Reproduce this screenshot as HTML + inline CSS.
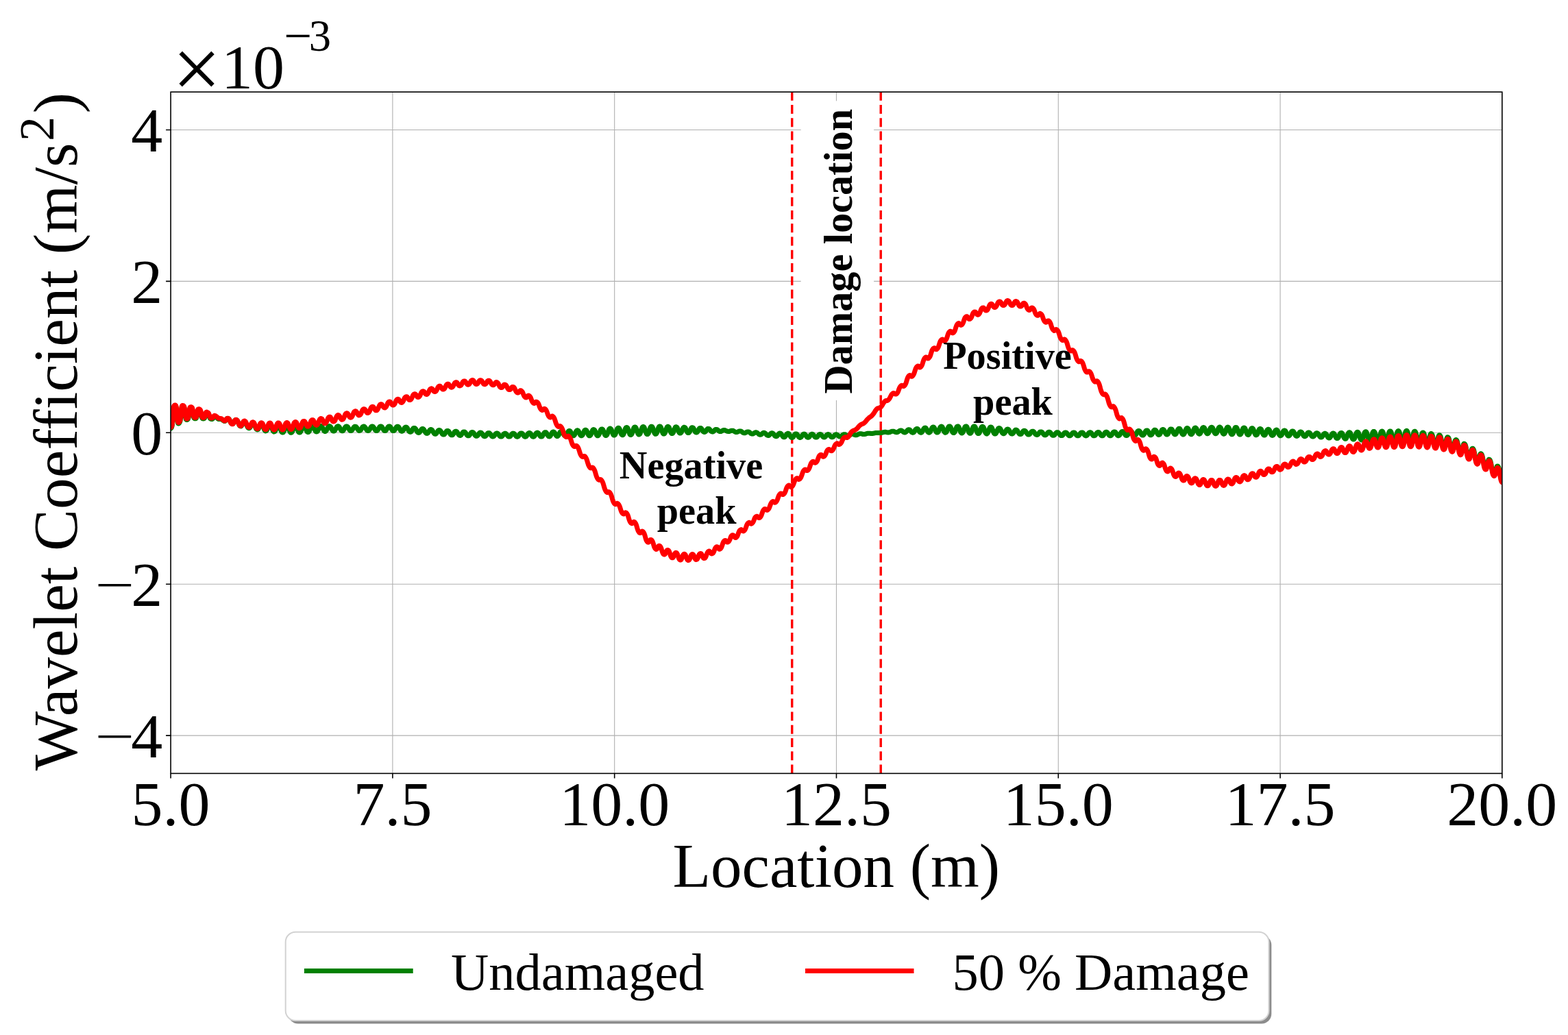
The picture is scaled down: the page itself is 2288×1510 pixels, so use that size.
<!DOCTYPE html><html><head><meta charset="utf-8"><title>Wavelet coefficient plot</title><style>html,body{margin:0;padding:0;background:#fff;overflow:hidden;}svg{display:block;}text{font-family:"Liberation Serif","Times New Roman",serif;fill:#000;}</style></head><body>
<svg width="2288" height="1510" viewBox="0 0 2288 1510">
<defs><clipPath id="axclip"><rect x="249.10" y="134.20" width="1942.75" height="994.20"/></clipPath></defs>
<rect width="2288" height="1510" fill="#fff"/>
<path d="M572.89 134.20V1128.40 M896.68 134.20V1128.40 M1220.47 134.20V1128.40 M1544.27 134.20V1128.40 M1868.06 134.20V1128.40 M249.10 189.43H2191.85 M249.10 410.37H2191.85 M249.10 631.30H2191.85 M249.10 852.23H2191.85 M249.10 1073.17H2191.85" stroke="#b0b0b0" stroke-width="1.1" fill="none"/>
<line x1="1155.72" y1="1128.40" x2="1155.72" y2="134.20" stroke="#ff0000" stroke-width="3.4" stroke-dasharray="13 6.25"/>
<line x1="1285.23" y1="1128.40" x2="1285.23" y2="134.20" stroke="#ff0000" stroke-width="3.4" stroke-dasharray="13 6.25"/>
<g clip-path="url(#axclip)" fill="none" stroke-width="7" stroke-linejoin="round" stroke-linecap="butt"><path d="M245.1 594.4L245.6 596.7 246.1 602.2 246.6 611.0 247.1 618.9 247.6 623.1 248.1 624.7 248.6 625.3 249.1 625.2 249.6 624.8 250.1 624.2 250.6 623.3 251.1 621.6 251.6 618.2 252.1 611.8 252.6 603.4 253.1 597.3 253.6 594.3 254.1 593.2 254.6 592.7 255.1 592.5 255.6 592.5 256.1 592.6 256.6 593.1 257.1 594.5 257.6 597.7 258.1 603.8 258.6 610.8 259.1 615.4 259.6 617.4 260.1 618.0 260.6 618.0 261.1 617.7 261.6 617.2 262.1 616.5 262.6 615.5 263.1 613.6 263.6 609.9 264.1 603.9 264.6 598.2 265.1 594.8 265.6 593.5 266.1 593.1 266.6 593.1 267.1 593.2 267.6 593.3 268.1 593.7 268.6 594.3 269.1 595.9 269.6 599.3 270.1 604.4 270.6 608.8 271.1 611.1 271.6 612.1 272.1 612.4 272.6 612.4 273.1 612.4 273.6 612.2 274.1 611.8 274.6 611.1 275.1 609.4 275.6 606.0 276.1 601.4 276.6 597.8 277.1 596.1 277.6 595.4 278.1 595.2 278.6 595.2 279.1 595.3 279.6 595.5 280.1 595.9 280.6 596.6 281.1 598.4 281.6 601.7 282.1 605.8 282.6 608.7 283.1 610.0 283.6 610.6 284.1 610.8 284.6 610.8 285.1 610.8 285.6 610.7 286.1 610.4 286.6 609.7 287.1 608.1 287.6 605.0 288.1 601.6 288.6 599.4 289.1 598.5 289.6 598.2 290.1 598.2 290.6 598.3 291.1 598.5 291.6 598.8 292.1 599.2 292.6 600.0 293.1 601.8 293.6 604.6 294.1 607.6 294.6 609.5 295.1 610.3 295.6 610.7 296.1 610.8 296.6 610.9 297.1 610.9 297.6 610.8 298.1 610.6 298.6 610.0 299.1 608.7 299.6 606.4 300.1 604.3 300.6 603.1 301.1 602.7 301.6 602.6 302.1 602.8 302.6 602.9 303.1 603.2 303.6 603.5 304.1 603.9 304.6 604.7 305.1 606.0 305.6 607.9 306.1 609.6 306.6 610.6 307.1 611.1 307.6 611.3 308.1 611.4 308.6 611.5 309.1 611.4 309.6 611.4 310.1 611.2 310.6 610.8 311.1 610.1 311.6 609.2 312.1 608.4 312.6 608.0 313.1 607.9 313.6 608.0 314.1 608.1 314.6 608.3 315.1 608.6 315.6 608.9 316.1 609.2 316.6 609.6 317.1 610.1 317.6 610.7 318.1 611.1 318.6 611.4 319.1 611.5 319.6 611.6 320.1 611.6 320.6 611.6 321.1 611.6 321.6 611.5 322.1 611.5 322.6 611.5 323.1 611.6 323.6 611.9 324.1 612.3 324.6 612.7 325.1 613.1 325.6 613.5 326.1 613.8 326.6 614.1 327.1 614.4 327.6 614.5 328.1 614.5 328.6 614.3 329.1 613.8 329.6 613.0 330.1 612.1 330.6 611.3 331.1 610.8 331.6 610.5 332.1 610.4 332.6 610.4 333.1 610.5 333.6 610.8 334.1 611.3 334.6 611.9 335.1 612.9 335.6 614.1 336.1 615.3 336.6 616.4 337.1 617.2 337.6 617.7 338.1 618.1 338.6 618.3 339.1 618.4 339.6 618.3 340.1 618.1 340.6 617.6 341.1 616.7 341.6 615.7 342.1 614.6 342.6 613.6 343.1 613.0 343.6 612.6 344.1 612.4 344.6 612.4 345.1 612.6 345.6 612.9 346.1 613.4 346.6 614.1 347.1 615.2 347.6 616.6 348.1 618.0 348.6 619.3 349.1 620.3 349.6 621.0 350.1 621.5 350.6 621.8 351.1 621.9 351.6 621.9 352.1 621.7 352.6 621.1 353.1 620.3 353.6 619.2 354.1 617.9 354.6 616.8 355.1 615.9 355.6 615.4 356.1 615.1 356.6 615.1 357.1 615.1 357.6 615.4 358.1 615.8 358.6 616.5 359.1 617.5 359.6 618.8 360.1 620.3 360.6 621.7 361.1 622.9 361.6 623.7 362.1 624.2 362.6 624.6 363.1 624.7 363.6 624.7 364.1 624.5 364.6 624.1 365.1 623.4 365.6 622.3 366.1 621.0 366.6 619.7 367.1 618.7 367.6 617.9 368.1 617.5 368.6 617.3 369.1 617.2 369.6 617.3 370.1 617.6 370.6 618.2 371.1 619.0 371.6 620.1 372.1 621.6 372.6 623.1 373.1 624.5 373.6 625.5 374.1 626.2 374.6 626.6 375.1 626.8 375.6 626.9 376.1 626.8 376.6 626.5 377.1 625.9 377.6 624.9 378.1 623.6 378.6 622.2 379.1 620.8 379.6 619.8 380.1 619.1 380.6 618.8 381.1 618.6 381.6 618.6 382.1 618.8 382.6 619.2 383.1 619.9 383.6 620.9 384.1 622.3 384.6 623.9 385.1 625.5 385.6 626.8 386.1 627.7 386.6 628.3 387.1 628.7 387.6 628.9 388.1 628.8 388.6 628.6 389.1 628.1 389.6 627.3 390.1 626.1 390.6 624.6 391.1 623.0 391.6 621.7 392.1 620.7 392.6 620.0 393.1 619.7 393.6 619.6 394.1 619.6 394.6 619.9 395.1 620.3 395.6 621.1 396.1 622.3 396.6 623.8 397.1 625.5 397.6 627.0 398.1 628.2 398.6 629.1 399.1 629.6 399.6 629.9 400.1 629.9 400.6 629.8 401.1 629.5 401.6 628.9 402.1 628.0 402.6 626.6 403.1 625.0 403.6 623.5 404.1 622.2 404.6 621.3 405.1 620.7 405.6 620.4 406.1 620.4 406.6 620.5 407.1 620.8 407.6 621.3 408.1 622.3 408.6 623.6 409.1 625.2 409.6 626.9 410.1 628.5 410.6 629.6 411.1 630.4 411.6 630.8 412.1 631.0 412.6 631.1 413.1 630.9 413.6 630.5 414.1 629.7 414.6 628.6 415.1 627.1 415.6 625.4 416.1 623.8 416.6 622.6 417.1 621.7 417.6 621.2 418.1 621.0 418.6 620.9 419.1 621.1 419.6 621.4 420.1 622.1 420.6 623.0 421.1 624.4 421.6 626.1 422.1 627.7 422.6 629.2 423.1 630.2 423.6 630.8 424.1 631.2 424.6 631.3 425.1 631.2 425.6 631.0 426.1 630.5 426.6 629.7 427.1 628.5 427.6 626.9 428.1 625.3 428.6 623.7 429.1 622.6 429.6 621.8 430.1 621.4 430.6 621.2 431.1 621.1 431.6 621.3 432.1 621.7 432.6 622.3 433.1 623.4 433.6 624.8 434.1 626.4 434.6 628.0 435.1 629.3 435.6 630.2 436.1 630.7 436.6 631.0 437.1 631.1 437.6 631.0 438.1 630.7 438.6 630.1 439.1 629.2 439.6 628.0 440.1 626.4 440.6 624.8 441.1 623.4 441.6 622.4 442.1 621.7 442.6 621.4 443.1 621.2 443.6 621.2 444.1 621.4 444.6 621.9 445.1 622.6 445.6 623.6 446.1 625.0 446.6 626.6 447.1 628.0 447.6 629.1 448.1 629.9 448.6 630.3 449.1 630.5 449.6 630.6 450.1 630.4 450.6 630.1 451.1 629.5 451.6 628.6 452.1 627.3 452.6 625.9 453.1 624.4 453.6 623.1 454.1 622.3 454.6 621.7 455.1 621.4 455.6 621.3 456.1 621.3 456.6 621.6 457.1 622.0 457.6 622.7 458.1 623.7 458.6 625.1 459.1 626.5 459.6 627.8 460.1 628.8 460.6 629.4 461.1 629.8 461.6 629.9 462.1 629.9 462.6 629.8 463.1 629.5 463.6 628.9 464.1 628.0 464.6 626.8 465.1 625.5 465.6 624.1 466.1 623.0 466.6 622.2 467.1 621.7 467.6 621.5 468.1 621.4 468.6 621.5 469.1 621.7 469.6 622.1 470.1 622.8 470.6 623.7 471.1 625.0 471.6 626.3 472.1 627.4 472.6 628.3 473.1 628.9 473.6 629.2 474.1 629.4 474.6 629.4 475.1 629.2 475.6 628.9 476.1 628.4 476.6 627.6 477.1 626.5 477.6 625.3 478.1 624.1 478.6 623.1 479.1 622.4 479.6 621.9 480.1 621.7 480.6 621.6 481.1 621.7 481.6 621.9 482.1 622.2 482.6 622.9 483.1 623.8 483.6 624.9 484.1 626.1 484.6 627.2 485.1 628.0 485.6 628.6 486.1 628.9 486.6 629.0 487.1 629.0 487.6 628.9 488.1 628.6 488.6 628.2 489.1 627.4 489.6 626.5 490.1 625.3 490.6 624.1 491.1 623.2 491.6 622.5 492.1 622.1 492.6 621.9 493.1 621.8 493.6 621.8 494.1 622.0 494.6 622.4 495.1 622.9 495.6 623.8 496.1 624.8 496.6 626.0 497.1 627.0 497.6 627.8 498.1 628.3 498.6 628.6 499.1 628.8 499.6 628.8 500.1 628.7 500.6 628.4 501.1 628.0 501.6 627.3 502.1 626.4 502.6 625.3 503.1 624.2 503.6 623.4 504.1 622.7 504.6 622.3 505.1 622.1 505.6 622.0 506.1 622.0 506.6 622.2 507.1 622.5 507.6 623.0 508.1 623.8 508.6 624.8 509.1 625.8 509.6 626.8 510.1 627.6 510.6 628.1 511.1 628.4 511.6 628.5 512.1 628.5 512.6 628.4 513.1 628.2 513.6 627.8 514.1 627.2 514.6 626.4 515.1 625.3 515.6 624.3 516.1 623.5 516.6 622.9 517.1 622.5 517.6 622.3 518.1 622.2 518.6 622.2 519.1 622.4 519.6 622.6 520.1 623.1 520.6 623.8 521.1 624.7 521.6 625.8 522.1 626.7 522.6 627.4 523.1 627.9 523.6 628.2 524.1 628.4 524.6 628.4 525.1 628.3 525.6 628.1 526.1 627.8 526.6 627.2 527.1 626.3 527.6 625.3 528.1 624.3 528.6 623.5 529.1 622.8 529.6 622.4 530.1 622.2 530.6 622.1 531.1 622.1 531.6 622.3 532.1 622.6 532.6 623.1 533.1 623.8 533.6 624.7 534.1 625.8 534.6 626.7 535.1 627.5 535.6 628.0 536.1 628.3 536.6 628.4 537.1 628.5 537.6 628.4 538.1 628.1 538.6 627.8 539.1 627.1 539.6 626.3 540.1 625.2 540.6 624.2 541.1 623.3 541.6 622.7 542.1 622.3 542.6 622.1 543.1 622.0 543.6 622.1 544.1 622.2 544.6 622.6 545.1 623.1 545.6 623.9 546.1 624.8 546.6 625.9 547.1 626.9 547.6 627.6 548.1 628.1 548.6 628.4 549.1 628.5 549.6 628.5 550.1 628.4 550.6 628.1 551.1 627.7 551.6 627.0 552.1 626.1 552.6 625.0 553.1 624.0 553.6 623.2 554.1 622.6 554.6 622.2 555.1 622.0 555.6 622.0 556.1 622.0 556.6 622.2 557.1 622.6 557.6 623.2 558.1 624.1 558.6 625.1 559.1 626.2 559.6 627.1 560.1 627.8 560.6 628.2 561.1 628.5 561.6 628.6 562.1 628.5 562.6 628.4 563.1 628.1 563.6 627.5 564.1 626.8 564.6 625.8 565.1 624.6 565.6 623.7 566.1 622.9 566.6 622.4 567.1 622.1 567.6 621.9 568.1 621.9 568.6 622.0 569.1 622.3 569.6 622.8 570.1 623.5 570.6 624.4 571.1 625.5 571.6 626.6 572.1 627.4 572.6 628.0 573.1 628.4 573.6 628.6 574.1 628.6 574.6 628.5 575.1 628.3 575.6 627.9 576.1 627.3 576.6 626.4 577.1 625.4 577.6 624.3 578.1 623.4 578.6 622.8 579.1 622.4 579.6 622.2 580.1 622.2 580.6 622.3 581.1 622.5 581.6 622.8 582.1 623.4 582.6 624.3 583.1 625.4 583.6 626.5 584.1 627.5 584.6 628.2 585.1 628.7 585.6 629.0 586.1 629.2 586.6 629.2 587.1 629.1 587.6 628.8 588.1 628.3 588.6 627.6 589.1 626.6 589.6 625.6 590.1 624.6 590.6 623.9 591.1 623.5 591.6 623.2 592.1 623.1 592.6 623.2 593.1 623.3 593.6 623.6 594.1 624.1 594.6 624.9 595.1 625.9 595.6 627.0 596.1 628.1 596.6 629.0 597.1 629.6 597.6 629.9 598.1 630.1 598.6 630.2 599.1 630.2 599.6 630.0 600.1 629.7 600.6 629.1 601.1 628.2 601.6 627.2 602.1 626.2 602.6 625.4 603.1 624.8 603.6 624.5 604.1 624.4 604.6 624.4 605.1 624.5 605.6 624.7 606.1 625.2 606.6 625.8 607.1 626.7 607.6 627.8 608.1 628.9 608.6 629.9 609.1 630.5 609.6 631.0 610.1 631.3 610.6 631.4 611.1 631.4 611.6 631.3 612.1 631.0 612.6 630.5 613.1 629.7 613.6 628.8 614.1 627.7 614.6 626.9 615.1 626.2 615.6 625.8 616.1 625.6 616.6 625.6 617.1 625.6 617.6 625.8 618.1 626.2 618.6 626.7 619.1 627.5 619.6 628.5 620.1 629.6 620.6 630.6 621.1 631.4 621.6 631.9 622.1 632.2 622.6 632.3 623.1 632.4 623.6 632.3 624.1 632.0 624.6 631.6 625.1 630.9 625.6 630.0 626.1 629.0 626.6 628.1 627.1 627.3 627.6 626.9 628.1 626.6 628.6 626.5 629.1 626.6 629.6 626.7 630.1 627.0 630.6 627.5 631.1 628.2 631.6 629.1 632.1 630.2 632.6 631.2 633.1 632.0 633.6 632.6 634.1 633.0 634.6 633.1 635.1 633.2 635.6 633.2 636.1 633.0 636.6 632.6 637.1 632.0 637.6 631.1 638.1 630.2 638.6 629.2 639.1 628.4 639.6 627.9 640.1 627.6 640.6 627.5 641.1 627.5 641.6 627.6 642.1 627.9 642.6 628.3 643.1 628.9 643.6 629.8 644.1 630.9 644.6 631.9 645.1 632.8 645.6 633.4 646.1 633.8 646.6 634.0 647.1 634.1 647.6 634.0 648.1 633.9 648.6 633.5 649.1 633.0 649.6 632.2 650.1 631.2 650.6 630.3 651.1 629.5 651.6 628.9 652.1 628.6 652.6 628.4 653.1 628.4 653.6 628.5 654.1 628.7 654.6 629.1 655.1 629.7 655.6 630.5 656.1 631.5 656.6 632.6 657.1 633.4 657.6 634.1 658.1 634.5 658.6 634.7 659.1 634.8 659.6 634.8 660.1 634.7 660.6 634.4 661.1 633.8 661.6 633.1 662.1 632.1 662.6 631.2 663.1 630.3 663.6 629.8 664.1 629.4 664.6 629.2 665.1 629.2 665.6 629.3 666.1 629.5 666.6 629.8 667.1 630.4 667.6 631.1 668.1 632.1 668.6 633.1 669.1 634.0 669.6 634.6 670.1 635.0 670.6 635.3 671.1 635.4 671.6 635.4 672.1 635.2 672.6 634.9 673.1 634.5 673.6 633.7 674.1 632.8 674.6 631.9 675.1 631.0 675.6 630.5 676.1 630.1 676.6 629.9 677.1 629.9 677.6 629.9 678.1 630.1 678.6 630.4 679.1 630.9 679.6 631.7 680.1 632.6 680.6 633.6 681.1 634.5 681.6 635.1 682.1 635.5 682.6 635.7 683.1 635.8 683.6 635.8 684.1 635.7 684.6 635.4 685.1 635.0 685.6 634.3 686.1 633.4 686.6 632.5 687.1 631.7 687.6 631.1 688.1 630.7 688.6 630.6 689.1 630.5 689.6 630.5 690.1 630.7 690.6 631.0 691.1 631.5 691.6 632.3 692.1 633.2 692.6 634.1 693.1 635.0 693.6 635.6 694.1 635.9 694.6 636.2 695.1 636.3 695.6 636.3 696.1 636.1 696.6 635.9 697.1 635.4 697.6 634.7 698.1 633.9 698.6 633.0 699.1 632.2 699.6 631.7 700.1 631.3 700.6 631.1 701.1 631.1 701.6 631.2 702.1 631.3 702.6 631.6 703.1 632.1 703.6 632.8 704.1 633.7 704.6 634.6 705.1 635.4 705.6 636.0 706.1 636.4 706.6 636.6 707.1 636.7 707.6 636.6 708.1 636.5 708.6 636.2 709.1 635.8 709.6 635.1 710.1 634.3 710.6 633.4 711.1 632.7 711.6 632.1 712.1 631.8 712.6 631.7 713.1 631.6 713.6 631.7 714.1 631.8 714.6 632.2 715.1 632.7 715.6 633.4 716.1 634.2 716.6 635.1 717.1 635.9 717.6 636.4 718.1 636.7 718.6 636.9 719.1 637.0 719.6 636.9 720.1 636.8 720.6 636.5 721.1 636.0 721.6 635.3 722.1 634.5 722.6 633.7 723.1 633.0 723.6 632.5 724.1 632.2 724.6 632.1 725.1 632.0 725.6 632.1 726.1 632.3 726.6 632.6 727.1 633.1 727.6 633.8 728.1 634.6 728.6 635.5 729.1 636.2 729.6 636.6 730.1 636.9 730.6 637.1 731.1 637.1 731.6 637.1 732.1 636.9 732.6 636.6 733.1 636.1 733.6 635.4 734.1 634.5 734.6 633.7 735.1 633.1 735.6 632.7 736.1 632.4 736.6 632.3 737.1 632.3 737.6 632.3 738.1 632.5 738.6 632.9 739.1 633.4 739.6 634.1 740.1 634.9 740.6 635.7 741.1 636.3 741.6 636.7 742.1 637.0 742.6 637.1 743.1 637.1 743.6 637.1 744.1 636.9 744.6 636.5 745.1 635.9 745.6 635.2 746.1 634.3 746.6 633.5 747.1 632.9 747.6 632.5 748.1 632.3 748.6 632.2 749.1 632.2 749.6 632.2 750.1 632.5 750.6 632.9 751.1 633.5 751.6 634.3 752.1 635.2 752.6 636.0 753.1 636.6 753.6 636.9 754.1 637.1 754.6 637.2 755.1 637.2 755.6 637.1 756.1 636.8 756.6 636.3 757.1 635.6 757.6 634.7 758.1 633.8 758.6 633.0 759.1 632.5 759.6 632.1 760.1 631.9 760.6 631.9 761.1 631.9 761.6 632.1 762.1 632.4 762.6 632.9 763.1 633.7 763.6 634.6 764.1 635.5 764.6 636.2 765.1 636.8 765.6 637.1 766.1 637.2 766.6 637.2 767.1 637.1 767.6 636.9 768.1 636.5 768.6 635.9 769.1 635.0 769.6 634.0 770.1 633.1 770.6 632.4 771.1 631.9 771.6 631.7 772.1 631.5 772.6 631.5 773.1 631.6 773.6 631.9 774.1 632.3 774.6 633.0 775.1 634.0 775.6 635.0 776.1 635.9 776.6 636.5 777.1 636.9 777.6 637.1 778.1 637.2 778.6 637.1 779.1 637.0 779.6 636.6 780.1 636.1 780.6 635.2 781.1 634.2 781.6 633.2 782.1 632.3 782.6 631.7 783.1 631.4 783.6 631.2 784.1 631.1 784.6 631.2 785.1 631.4 785.6 631.8 786.1 632.4 786.6 633.4 787.1 634.4 787.6 635.4 788.1 636.2 788.6 636.7 789.1 637.0 789.6 637.1 790.1 637.1 790.6 637.0 791.1 636.7 791.6 636.1 792.1 635.3 792.6 634.3 793.1 633.2 793.6 632.2 794.1 631.5 794.6 631.0 795.1 630.8 795.6 630.7 796.1 630.7 796.6 630.8 797.1 631.2 797.6 631.8 798.1 632.7 798.6 633.7 799.1 634.8 799.6 635.7 800.1 636.3 800.6 636.7 801.1 636.8 801.6 636.9 802.1 636.7 802.6 636.5 803.1 636.0 803.6 635.2 804.1 634.2 804.6 633.0 805.1 631.9 805.6 631.1 806.1 630.5 806.6 630.2 807.1 630.0 807.6 630.0 808.1 630.1 808.6 630.4 809.1 630.9 809.6 631.7 810.1 632.8 810.6 633.9 811.1 635.0 811.6 635.7 812.1 636.1 812.6 636.4 813.1 636.4 813.6 636.4 814.1 636.1 814.6 635.7 815.1 635.0 815.6 634.0 816.1 632.8 816.6 631.6 817.1 630.6 817.6 629.9 818.1 629.5 818.6 629.2 819.1 629.2 819.6 629.2 820.1 629.5 820.6 629.9 821.1 630.7 821.6 631.7 822.1 632.9 822.6 634.1 823.1 634.9 823.6 635.5 824.1 635.8 824.6 636.0 825.1 636.0 825.6 635.8 826.1 635.4 826.6 634.8 827.1 633.9 827.6 632.7 828.1 631.5 828.6 630.3 829.1 629.5 829.6 628.9 830.1 628.6 830.6 628.5 831.1 628.5 831.6 628.7 832.1 629.0 832.6 629.7 833.1 630.7 833.6 631.9 834.1 633.2 834.6 634.3 835.1 635.0 835.6 635.5 836.1 635.7 836.6 635.8 837.1 635.7 837.6 635.4 838.1 634.9 838.6 634.2 839.1 633.0 839.6 631.7 840.1 630.4 840.6 629.3 841.1 628.6 841.6 628.1 842.1 627.9 842.6 627.8 843.1 627.9 843.6 628.2 844.1 628.8 844.6 629.6 845.1 630.8 845.6 632.2 846.1 633.5 846.6 634.5 847.1 635.2 847.6 635.6 848.1 635.8 848.6 635.8 849.1 635.6 849.6 635.3 850.1 634.6 850.6 633.6 851.1 632.3 851.6 630.8 852.1 629.5 852.6 628.5 853.1 627.8 853.6 627.4 854.1 627.3 854.6 627.3 855.1 627.4 855.6 627.8 856.1 628.5 856.6 629.6 857.1 630.9 857.6 632.4 858.1 633.7 858.6 634.7 859.1 635.3 859.6 635.7 860.1 635.8 860.6 635.8 861.1 635.6 861.6 635.1 862.1 634.3 862.6 633.2 863.1 631.7 863.6 630.1 864.1 628.8 864.6 627.8 865.1 627.1 865.6 626.8 866.1 626.6 866.6 626.7 867.1 626.9 867.6 627.3 868.1 628.1 868.6 629.3 869.1 630.8 869.6 632.4 870.1 633.7 870.6 634.7 871.1 635.3 871.6 635.7 872.1 635.8 872.6 635.7 873.1 635.4 873.6 634.9 874.1 634.0 874.6 632.8 875.1 631.2 875.6 629.5 876.1 628.1 876.6 627.1 877.1 626.5 877.6 626.1 878.1 625.9 878.6 626.0 879.1 626.2 879.6 626.7 880.1 627.5 880.6 628.8 881.1 630.4 881.6 632.0 882.1 633.4 882.6 634.4 883.1 635.0 883.6 635.4 884.1 635.5 884.6 635.4 885.1 635.1 885.6 634.6 886.1 633.7 886.6 632.3 887.1 630.7 887.6 629.0 888.1 627.5 888.6 626.4 889.1 625.7 889.6 625.3 890.1 625.1 890.6 625.1 891.1 625.4 891.6 625.9 892.1 626.7 892.6 628.0 893.1 629.6 893.6 631.4 894.1 632.8 894.6 633.9 895.1 634.6 895.6 635.0 896.1 635.1 896.6 635.0 897.1 634.8 897.6 634.2 898.1 633.3 898.6 632.0 899.1 630.3 899.6 628.5 900.1 626.9 900.6 625.7 901.1 624.9 901.6 624.5 902.1 624.3 902.6 624.3 903.1 624.5 903.6 625.0 904.1 625.8 904.6 627.1 905.1 628.8 905.6 630.6 906.1 632.2 906.6 633.3 907.1 634.1 907.6 634.6 908.1 634.7 908.6 634.7 909.1 634.5 909.6 634.0 910.1 633.1 910.6 631.8 911.1 630.0 911.6 628.2 912.1 626.4 912.6 625.1 913.1 624.3 913.6 623.8 914.1 623.5 914.6 623.5 915.1 623.7 915.6 624.1 916.1 624.9 916.6 626.2 917.1 627.9 917.6 629.7 918.1 631.5 918.6 632.8 919.1 633.7 919.6 634.2 920.1 634.4 920.6 634.4 921.1 634.2 921.6 633.8 922.1 632.9 922.6 631.7 923.1 630.0 923.6 628.1 924.1 626.3 924.6 624.9 925.1 623.9 925.6 623.3 926.1 623.0 926.6 623.0 927.1 623.1 927.6 623.5 928.1 624.3 928.6 625.4 929.1 627.0 929.6 628.9 930.1 630.7 930.6 632.1 931.1 633.1 931.6 633.7 932.1 634.0 932.6 634.0 933.1 633.9 933.6 633.4 934.1 632.7 934.6 631.5 935.1 629.9 935.6 628.0 936.1 626.2 936.6 624.7 937.1 623.6 937.6 623.0 938.1 622.6 938.6 622.5 939.1 622.6 939.6 623.0 940.1 623.6 940.6 624.7 941.1 626.3 941.6 628.1 942.1 630.0 942.6 631.5 943.1 632.6 943.6 633.2 944.1 633.5 944.6 633.6 945.1 633.5 945.6 633.1 946.1 632.5 946.6 631.4 947.1 629.8 947.6 628.0 948.1 626.1 948.6 624.5 949.1 623.4 949.6 622.7 950.1 622.3 950.6 622.2 951.1 622.2 951.6 622.6 952.1 623.2 952.6 624.2 953.1 625.7 953.6 627.5 954.1 629.4 954.6 631.0 955.1 632.1 955.6 632.8 956.1 633.2 956.6 633.3 957.1 633.3 957.6 632.9 958.1 632.3 958.6 631.3 959.1 629.8 959.6 628.0 960.1 626.0 960.6 624.4 961.1 623.3 961.6 622.5 962.1 622.1 962.6 622.0 963.1 622.0 963.6 622.3 964.1 622.9 964.6 623.9 965.1 625.4 965.6 627.2 966.1 629.1 966.6 630.7 967.1 631.9 967.6 632.6 968.1 633.0 968.6 633.1 969.1 633.0 969.6 632.7 970.1 632.1 970.6 631.1 971.1 629.7 971.6 627.9 972.1 626.1 972.6 624.6 973.1 623.5 973.6 622.8 974.1 622.4 974.6 622.3 975.1 622.4 975.6 622.7 976.1 623.3 976.6 624.2 977.1 625.6 977.6 627.3 978.1 629.0 978.6 630.5 979.1 631.5 979.6 632.1 980.1 632.5 980.6 632.6 981.1 632.5 981.6 632.2 982.1 631.6 982.6 630.7 983.1 629.3 983.6 627.7 984.1 626.1 984.6 624.7 985.1 623.7 985.6 623.1 986.1 622.8 986.6 622.8 987.1 622.9 987.6 623.2 988.1 623.7 988.6 624.6 989.1 625.9 989.6 627.5 990.1 629.1 990.6 630.3 991.1 631.2 991.6 631.7 992.1 632.0 992.6 632.0 993.1 631.9 993.6 631.6 994.1 631.0 994.6 630.1 995.1 628.8 995.6 627.3 996.1 625.9 996.6 624.7 997.1 623.9 997.6 623.5 998.1 623.3 998.6 623.2 999.1 623.4 999.6 623.7 1000.1 624.3 1000.6 625.2 1001.1 626.5 1001.6 627.9 1002.1 629.3 1002.6 630.3 1003.1 631.0 1003.6 631.4 1004.1 631.5 1004.6 631.5 1005.1 631.4 1005.6 631.0 1006.1 630.4 1006.6 629.4 1007.1 628.2 1007.6 626.8 1008.1 625.6 1008.6 624.7 1009.1 624.1 1009.6 623.8 1010.1 623.7 1010.6 623.7 1011.1 623.9 1011.6 624.3 1012.1 625.0 1012.6 625.9 1013.1 627.2 1013.6 628.4 1014.1 629.5 1014.6 630.3 1015.1 630.7 1015.6 630.9 1016.1 631.0 1016.6 630.9 1017.1 630.7 1017.6 630.3 1018.1 629.6 1018.6 628.7 1019.1 627.5 1019.6 626.4 1020.1 625.5 1020.6 624.9 1021.1 624.6 1021.6 624.4 1022.1 624.4 1022.6 624.5 1023.1 624.8 1023.6 625.3 1024.1 626.0 1024.6 626.9 1025.1 627.9 1025.6 628.9 1026.1 629.6 1026.6 630.1 1027.1 630.3 1027.6 630.4 1028.1 630.4 1028.6 630.3 1029.1 630.0 1029.6 629.5 1030.1 628.9 1030.6 628.0 1031.1 627.1 1031.6 626.4 1032.1 625.9 1032.6 625.5 1033.1 625.4 1033.6 625.4 1034.1 625.4 1034.6 625.6 1035.1 625.9 1035.6 626.4 1036.1 627.0 1036.6 627.8 1037.1 628.6 1037.6 629.2 1038.1 629.6 1038.6 629.8 1039.1 629.9 1039.6 629.9 1040.1 629.9 1040.6 629.7 1041.1 629.4 1041.6 629.0 1042.1 628.4 1042.6 627.8 1043.1 627.2 1043.6 626.8 1044.1 626.5 1044.6 626.4 1045.1 626.4 1045.6 626.5 1046.1 626.6 1046.6 626.8 1047.1 627.1 1047.6 627.5 1048.1 628.0 1048.6 628.6 1049.1 629.0 1049.6 629.3 1050.1 629.5 1050.6 629.6 1051.1 629.6 1051.6 629.6 1052.1 629.5 1052.6 629.3 1053.1 629.1 1053.6 628.7 1054.1 628.3 1054.6 628.0 1055.1 627.7 1055.6 627.6 1056.1 627.5 1056.6 627.5 1057.1 627.6 1057.6 627.6 1058.1 627.8 1058.6 627.9 1059.1 628.2 1059.6 628.5 1060.1 628.7 1060.6 629.0 1061.1 629.2 1061.6 629.3 1062.1 629.4 1062.6 629.5 1063.1 629.5 1063.6 629.5 1064.1 629.5 1064.6 629.3 1065.1 629.1 1065.6 628.9 1066.1 628.6 1066.6 628.4 1067.1 628.3 1067.6 628.2 1068.1 628.2 1068.6 628.2 1069.1 628.2 1069.6 628.3 1070.1 628.5 1070.6 628.7 1071.1 629.0 1071.6 629.4 1072.1 629.7 1072.6 630.0 1073.1 630.2 1073.6 630.4 1074.1 630.4 1074.6 630.5 1075.1 630.5 1075.6 630.4 1076.1 630.3 1076.6 630.1 1077.1 629.8 1077.6 629.5 1078.1 629.2 1078.6 629.1 1079.1 629.0 1079.6 629.0 1080.1 629.0 1080.6 629.0 1081.1 629.1 1081.6 629.3 1082.1 629.6 1082.6 630.0 1083.1 630.4 1083.6 630.8 1084.1 631.2 1084.6 631.4 1085.1 631.6 1085.6 631.7 1086.1 631.7 1086.6 631.7 1087.1 631.7 1087.6 631.6 1088.1 631.3 1088.6 631.0 1089.1 630.6 1089.6 630.3 1090.1 630.1 1090.6 630.0 1091.1 629.9 1091.6 629.9 1092.1 630.0 1092.6 630.1 1093.1 630.3 1093.6 630.6 1094.1 631.0 1094.6 631.5 1095.1 632.0 1095.6 632.4 1096.1 632.6 1096.6 632.8 1097.1 633.0 1097.6 633.0 1098.1 633.0 1098.6 633.0 1099.1 632.8 1099.6 632.6 1100.1 632.2 1100.6 631.7 1101.1 631.4 1101.6 631.1 1102.1 630.9 1102.6 630.8 1103.1 630.8 1103.6 630.9 1104.1 631.0 1104.6 631.2 1105.1 631.5 1105.6 631.9 1106.1 632.4 1106.6 632.9 1107.1 633.4 1107.6 633.7 1108.1 634.0 1108.6 634.1 1109.1 634.2 1109.6 634.2 1110.1 634.1 1110.6 634.0 1111.1 633.7 1111.6 633.2 1112.1 632.7 1112.6 632.2 1113.1 631.8 1113.6 631.5 1114.1 631.4 1114.6 631.3 1115.1 631.4 1115.6 631.5 1116.1 631.7 1116.6 632.0 1117.1 632.5 1117.6 633.1 1118.1 633.8 1118.6 634.4 1119.1 634.8 1119.6 635.1 1120.1 635.3 1120.6 635.4 1121.1 635.4 1121.6 635.4 1122.1 635.2 1122.6 634.8 1123.1 634.3 1123.6 633.6 1124.1 633.0 1124.6 632.4 1125.1 632.1 1125.6 631.9 1126.1 631.8 1126.6 631.8 1127.1 631.9 1127.6 632.1 1128.1 632.4 1128.6 633.0 1129.1 633.7 1129.6 634.5 1130.1 635.3 1130.6 635.9 1131.1 636.3 1131.6 636.5 1132.1 636.6 1132.6 636.7 1133.1 636.6 1133.6 636.4 1134.1 636.0 1134.6 635.4 1135.1 634.6 1135.6 633.8 1136.1 633.1 1136.6 632.6 1137.1 632.3 1137.6 632.1 1138.1 632.1 1138.6 632.2 1139.1 632.3 1139.6 632.7 1140.1 633.3 1140.6 634.0 1141.1 635.0 1141.6 635.9 1142.1 636.7 1142.6 637.2 1143.1 637.5 1143.6 637.7 1144.1 637.8 1144.6 637.7 1145.1 637.5 1145.6 637.2 1146.1 636.5 1146.6 635.7 1147.1 634.7 1147.6 633.8 1148.1 633.1 1148.6 632.7 1149.1 632.4 1149.6 632.3 1150.1 632.3 1150.6 632.5 1151.1 632.8 1151.6 633.3 1152.1 634.1 1152.6 635.1 1153.1 636.2 1153.6 637.1 1154.1 637.8 1154.6 638.2 1155.1 638.4 1155.6 638.5 1156.1 638.5 1156.6 638.3 1157.1 638.0 1157.6 637.4 1158.1 636.6 1158.6 635.6 1159.1 634.6 1159.6 633.8 1160.1 633.3 1160.6 633.0 1161.1 632.9 1161.6 632.9 1162.1 633.0 1162.6 633.2 1163.1 633.6 1163.6 634.2 1164.1 635.1 1164.6 636.0 1165.1 636.9 1165.6 637.6 1166.1 638.1 1166.6 638.3 1167.1 638.5 1167.6 638.5 1168.1 638.3 1168.6 638.1 1169.1 637.7 1169.6 637.0 1170.1 636.2 1170.6 635.2 1171.1 634.4 1171.6 633.8 1172.1 633.4 1172.6 633.2 1173.1 633.1 1173.6 633.2 1174.1 633.3 1174.6 633.6 1175.1 634.1 1175.6 634.7 1176.1 635.6 1176.6 636.5 1177.1 637.2 1177.6 637.8 1178.1 638.1 1178.6 638.2 1179.1 638.3 1179.6 638.2 1180.1 638.1 1180.6 637.7 1181.1 637.2 1181.6 636.5 1182.1 635.6 1182.6 634.8 1183.1 634.1 1183.6 633.7 1184.1 633.4 1184.6 633.3 1185.1 633.3 1185.6 633.4 1186.1 633.6 1186.6 633.9 1187.1 634.5 1187.6 635.3 1188.1 636.1 1188.6 636.9 1189.1 637.5 1189.6 637.8 1190.1 638.0 1190.6 638.1 1191.1 638.1 1191.6 638.0 1192.1 637.8 1192.6 637.4 1193.1 636.8 1193.6 636.0 1194.1 635.2 1194.6 634.5 1195.1 634.0 1195.6 633.7 1196.1 633.5 1196.6 633.5 1197.1 633.5 1197.6 633.6 1198.1 633.9 1198.6 634.3 1199.1 635.0 1199.6 635.7 1200.1 636.5 1200.6 637.1 1201.1 637.5 1201.6 637.8 1202.1 637.9 1202.6 638.0 1203.1 637.9 1203.6 637.7 1204.1 637.4 1204.6 636.9 1205.1 636.3 1205.6 635.5 1206.1 634.8 1206.6 634.3 1207.1 633.9 1207.6 633.7 1208.1 633.6 1208.6 633.6 1209.1 633.7 1209.6 633.9 1210.1 634.3 1210.6 634.8 1211.1 635.4 1211.6 636.2 1212.1 636.8 1212.6 637.3 1213.1 637.6 1213.6 637.7 1214.1 637.8 1214.6 637.7 1215.1 637.6 1215.6 637.4 1216.1 637.0 1216.6 636.5 1217.1 635.8 1217.6 635.2 1218.1 634.6 1218.6 634.2 1219.1 634.0 1219.6 633.9 1220.1 633.8 1220.6 633.9 1221.1 634.0 1221.6 634.2 1222.1 634.6 1222.6 635.0 1223.1 635.6 1223.6 636.2 1224.1 636.6 1224.6 636.9 1225.1 637.0 1225.6 637.1 1226.1 637.0 1226.6 636.9 1227.1 636.8 1227.6 636.5 1228.1 636.1 1228.6 635.6 1229.1 635.1 1229.6 634.5 1230.1 634.2 1230.6 633.9 1231.1 633.8 1231.6 633.7 1232.1 633.7 1232.6 633.7 1233.1 633.8 1233.6 634.1 1234.1 634.4 1234.6 634.8 1235.1 635.2 1235.6 635.6 1236.1 635.8 1236.6 635.9 1237.1 636.0 1237.6 636.0 1238.1 635.9 1238.6 635.8 1239.1 635.6 1239.6 635.3 1240.1 635.0 1240.6 634.5 1241.1 634.1 1241.6 633.8 1242.1 633.5 1242.6 633.4 1243.1 633.3 1243.6 633.3 1244.1 633.3 1244.6 633.3 1245.1 633.4 1245.6 633.6 1246.1 633.9 1246.6 634.1 1247.1 634.4 1247.6 634.6 1248.1 634.7 1248.6 634.7 1249.1 634.7 1249.6 634.7 1250.1 634.6 1250.6 634.5 1251.1 634.3 1251.6 634.1 1252.1 633.8 1252.6 633.5 1253.1 633.2 1253.6 633.0 1254.1 632.9 1254.6 632.8 1255.1 632.8 1255.6 632.8 1256.1 632.8 1256.6 632.8 1257.1 632.9 1257.6 633.0 1258.1 633.2 1258.6 633.3 1259.1 633.5 1259.6 633.5 1260.1 633.5 1260.6 633.5 1261.1 633.5 1261.6 633.5 1262.1 633.4 1262.6 633.3 1263.1 633.2 1263.6 633.0 1264.1 632.8 1264.6 632.6 1265.1 632.5 1265.6 632.4 1266.1 632.3 1266.6 632.2 1267.1 632.2 1267.6 632.2 1268.1 632.2 1268.6 632.2 1269.1 632.2 1269.6 632.3 1270.1 632.4 1270.6 632.5 1271.1 632.5 1271.6 632.5 1272.1 632.5 1272.6 632.5 1273.1 632.5 1273.6 632.4 1274.1 632.3 1274.6 632.2 1275.1 632.1 1275.6 632.0 1276.1 631.9 1276.6 631.7 1277.1 631.6 1277.6 631.6 1278.1 631.5 1278.6 631.5 1279.1 631.4 1279.6 631.4 1280.1 631.4 1280.6 631.4 1281.1 631.4 1281.6 631.5 1282.1 631.5 1282.6 631.5 1283.1 631.5 1283.6 631.5 1284.1 631.5 1284.6 631.5 1285.1 631.5 1285.6 631.4 1286.1 631.4 1286.6 631.3 1287.1 631.2 1287.6 631.0 1288.1 630.9 1288.6 630.7 1289.1 630.6 1289.6 630.5 1290.1 630.4 1290.6 630.4 1291.1 630.3 1291.6 630.3 1292.1 630.3 1292.6 630.4 1293.1 630.5 1293.6 630.6 1294.1 630.7 1294.6 630.8 1295.1 630.9 1295.6 630.9 1296.1 630.9 1296.6 630.9 1297.1 630.8 1297.6 630.8 1298.1 630.7 1298.6 630.5 1299.1 630.3 1299.6 630.0 1300.1 629.8 1300.6 629.6 1301.1 629.4 1301.6 629.3 1302.1 629.3 1302.6 629.2 1303.1 629.2 1303.6 629.2 1304.1 629.3 1304.6 629.5 1305.1 629.7 1305.6 629.9 1306.1 630.2 1306.6 630.4 1307.1 630.5 1307.6 630.6 1308.1 630.7 1308.6 630.7 1309.1 630.6 1309.6 630.5 1310.1 630.3 1310.6 630.0 1311.1 629.6 1311.6 629.2 1312.1 628.8 1312.6 628.4 1313.1 628.2 1313.6 628.1 1314.1 628.0 1314.6 628.0 1315.1 628.0 1315.6 628.1 1316.1 628.4 1316.6 628.8 1317.1 629.3 1317.6 629.8 1318.1 630.3 1318.6 630.6 1319.1 630.8 1319.6 630.9 1320.1 631.0 1320.6 631.0 1321.1 630.8 1321.6 630.6 1322.1 630.2 1322.6 629.6 1323.1 629.0 1323.6 628.3 1324.1 627.7 1324.6 627.2 1325.1 627.0 1325.6 626.8 1326.1 626.7 1326.6 626.7 1327.1 626.9 1327.6 627.1 1328.1 627.6 1328.6 628.3 1329.1 629.1 1329.6 629.8 1330.1 630.4 1330.6 630.8 1331.1 631.1 1331.6 631.2 1332.1 631.2 1332.6 631.1 1333.1 630.9 1333.6 630.5 1334.1 629.9 1334.6 629.0 1335.1 628.0 1335.6 627.1 1336.1 626.4 1336.6 626.0 1337.1 625.7 1337.6 625.5 1338.1 625.4 1338.6 625.5 1339.1 625.7 1339.6 626.2 1340.1 626.8 1340.6 627.8 1341.1 628.8 1341.6 629.7 1342.1 630.4 1342.6 630.8 1343.1 631.1 1343.6 631.2 1344.1 631.2 1344.6 631.0 1345.1 630.7 1345.6 630.1 1346.1 629.2 1346.6 628.1 1347.1 627.0 1347.6 625.9 1348.1 625.1 1348.6 624.6 1349.1 624.3 1349.6 624.2 1350.1 624.1 1350.6 624.3 1351.1 624.6 1351.6 625.2 1352.1 626.2 1352.6 627.3 1353.1 628.6 1353.6 629.6 1354.1 630.4 1354.6 630.8 1355.1 631.1 1355.6 631.2 1356.1 631.1 1356.6 630.9 1357.1 630.4 1357.6 629.7 1358.1 628.6 1358.6 627.3 1359.1 625.9 1359.6 624.8 1360.1 624.0 1360.6 623.4 1361.1 623.1 1361.6 623.0 1362.1 623.1 1362.6 623.3 1363.1 623.7 1363.6 624.5 1364.1 625.6 1364.6 627.0 1365.1 628.3 1365.6 629.5 1366.1 630.3 1366.6 630.7 1367.1 631.0 1367.6 631.0 1368.1 630.9 1368.6 630.7 1369.1 630.1 1369.6 629.2 1370.1 628.0 1370.6 626.5 1371.1 625.0 1371.6 623.8 1372.1 623.0 1372.6 622.4 1373.1 622.2 1373.6 622.1 1374.1 622.2 1374.6 622.5 1375.1 623.0 1375.6 624.0 1376.1 625.3 1376.6 626.8 1377.1 628.4 1377.6 629.6 1378.1 630.4 1378.6 630.9 1379.1 631.2 1379.6 631.2 1380.1 631.1 1380.6 630.8 1381.1 630.2 1381.6 629.2 1382.1 627.8 1382.6 626.2 1383.1 624.7 1383.6 623.5 1384.1 622.6 1384.6 622.1 1385.1 621.9 1385.6 621.9 1386.1 622.0 1386.6 622.4 1387.1 623.0 1387.6 624.0 1388.1 625.5 1388.6 627.1 1389.1 628.7 1389.6 629.9 1390.1 630.8 1390.6 631.3 1391.1 631.5 1391.6 631.6 1392.1 631.5 1392.6 631.1 1393.1 630.5 1393.6 629.4 1394.1 628.0 1394.6 626.3 1395.1 624.8 1395.6 623.5 1396.1 622.7 1396.6 622.2 1397.1 621.9 1397.6 621.9 1398.1 622.0 1398.6 622.4 1399.1 623.1 1399.6 624.2 1400.1 625.6 1400.6 627.3 1401.1 629.0 1401.6 630.2 1402.1 631.1 1402.6 631.6 1403.1 631.9 1403.6 632.0 1404.1 631.8 1404.6 631.5 1405.1 630.8 1405.6 629.7 1406.1 628.3 1406.6 626.6 1407.1 624.9 1407.6 623.6 1408.1 622.7 1408.6 622.2 1409.1 621.9 1409.6 621.9 1410.1 622.0 1410.6 622.4 1411.1 623.1 1411.6 624.2 1412.1 625.6 1412.6 627.4 1413.1 629.1 1413.6 630.4 1414.1 631.4 1414.6 631.9 1415.1 632.2 1415.6 632.3 1416.1 632.2 1416.6 631.8 1417.1 631.2 1417.6 630.1 1418.1 628.6 1418.6 626.9 1419.1 625.2 1419.6 623.8 1420.1 622.8 1420.6 622.3 1421.1 622.0 1421.6 621.9 1422.1 622.0 1422.6 622.4 1423.1 623.0 1423.6 624.1 1424.1 625.6 1424.6 627.3 1425.1 629.1 1425.6 630.5 1426.1 631.6 1426.6 632.2 1427.1 632.5 1427.6 632.6 1428.1 632.5 1428.6 632.2 1429.1 631.6 1429.6 630.6 1430.1 629.2 1430.6 627.5 1431.1 625.8 1431.6 624.3 1432.1 623.3 1432.6 622.7 1433.1 622.4 1433.6 622.3 1434.1 622.4 1434.6 622.7 1435.1 623.3 1435.6 624.3 1436.1 625.6 1436.6 627.3 1437.1 629.1 1437.6 630.6 1438.1 631.6 1438.6 632.3 1439.1 632.7 1439.6 632.9 1440.1 632.9 1440.6 632.6 1441.1 632.1 1441.6 631.3 1442.1 630.0 1442.6 628.4 1443.1 626.8 1443.6 625.3 1444.1 624.2 1444.6 623.5 1445.1 623.1 1445.6 623.0 1446.1 623.1 1446.6 623.3 1447.1 623.8 1447.6 624.6 1448.1 625.8 1448.6 627.3 1449.1 629.0 1449.6 630.5 1450.1 631.7 1450.6 632.4 1451.1 632.9 1451.6 633.1 1452.1 633.1 1452.6 632.9 1453.1 632.5 1453.6 631.9 1454.1 631.0 1454.6 629.8 1455.1 628.3 1455.6 627.0 1456.1 625.9 1456.6 625.1 1457.1 624.7 1457.6 624.5 1458.1 624.5 1458.6 624.6 1459.1 624.9 1459.6 625.4 1460.1 626.2 1460.6 627.2 1461.1 628.5 1461.6 629.8 1462.1 630.9 1462.6 631.7 1463.1 632.3 1463.6 632.5 1464.1 632.7 1464.6 632.7 1465.1 632.5 1465.6 632.2 1466.1 631.7 1466.6 630.9 1467.1 630.0 1467.6 628.9 1468.1 627.8 1468.6 627.0 1469.1 626.5 1469.6 626.2 1470.1 626.1 1470.6 626.1 1471.1 626.2 1471.6 626.5 1472.1 627.0 1472.6 627.7 1473.1 628.6 1473.6 629.7 1474.1 630.8 1474.6 631.7 1475.1 632.3 1475.6 632.7 1476.1 632.9 1476.6 633.0 1477.1 633.0 1477.6 632.8 1478.1 632.4 1478.6 631.9 1479.1 631.1 1479.6 630.1 1480.1 629.1 1480.6 628.2 1481.1 627.7 1481.6 627.3 1482.1 627.2 1482.6 627.1 1483.1 627.2 1483.6 627.4 1484.1 627.8 1484.6 628.4 1485.1 629.2 1485.6 630.2 1486.1 631.2 1486.6 632.1 1487.1 632.8 1487.6 633.2 1488.1 633.4 1488.6 633.6 1489.1 633.6 1489.6 633.4 1490.1 633.2 1490.6 632.7 1491.1 632.0 1491.6 631.1 1492.1 630.2 1492.6 629.4 1493.1 628.8 1493.6 628.4 1494.1 628.2 1494.6 628.2 1495.1 628.2 1495.6 628.4 1496.1 628.7 1496.6 629.2 1497.1 629.9 1497.6 630.8 1498.1 631.8 1498.6 632.6 1499.1 633.3 1499.6 633.7 1500.1 634.0 1500.6 634.1 1501.1 634.1 1501.6 634.0 1502.1 633.8 1502.6 633.4 1503.1 632.8 1503.6 632.0 1504.1 631.1 1504.6 630.4 1505.1 629.8 1505.6 629.4 1506.1 629.2 1506.6 629.2 1507.1 629.2 1507.6 629.3 1508.1 629.6 1508.6 630.0 1509.1 630.6 1509.6 631.4 1510.1 632.3 1510.6 633.1 1511.1 633.7 1511.6 634.1 1512.1 634.3 1512.6 634.4 1513.1 634.5 1513.6 634.4 1514.1 634.2 1514.6 633.8 1515.1 633.3 1515.6 632.6 1516.1 631.8 1516.6 631.1 1517.1 630.5 1517.6 630.1 1518.1 629.9 1518.6 629.9 1519.1 629.9 1519.6 630.0 1520.1 630.2 1520.6 630.5 1521.1 631.1 1521.6 631.8 1522.1 632.7 1522.6 633.5 1523.1 634.1 1523.6 634.5 1524.1 634.7 1524.6 634.8 1525.1 634.9 1525.6 634.8 1526.1 634.6 1526.6 634.3 1527.1 633.8 1527.6 633.1 1528.1 632.3 1528.6 631.6 1529.1 631.0 1529.6 630.6 1530.1 630.4 1530.6 630.3 1531.1 630.3 1531.6 630.4 1532.1 630.6 1532.6 631.0 1533.1 631.5 1533.6 632.3 1534.1 633.1 1534.6 633.9 1535.1 634.5 1535.6 634.9 1536.1 635.2 1536.6 635.3 1537.1 635.3 1537.6 635.2 1538.1 635.1 1538.6 634.7 1539.1 634.2 1539.6 633.5 1540.1 632.7 1540.6 631.9 1541.1 631.4 1541.6 631.0 1542.1 630.8 1542.6 630.7 1543.1 630.7 1543.6 630.8 1544.1 631.0 1544.6 631.4 1545.1 632.0 1545.6 632.7 1546.1 633.5 1546.6 634.3 1547.1 634.9 1547.6 635.3 1548.1 635.5 1548.6 635.6 1549.1 635.6 1549.6 635.6 1550.1 635.4 1550.6 635.0 1551.1 634.4 1551.6 633.7 1552.1 632.9 1552.6 632.2 1553.1 631.6 1553.6 631.2 1554.1 631.0 1554.6 631.0 1555.1 631.0 1555.6 631.1 1556.1 631.3 1556.6 631.7 1557.1 632.3 1557.6 633.0 1558.1 633.8 1558.6 634.6 1559.1 635.1 1559.6 635.5 1560.1 635.7 1560.6 635.8 1561.1 635.8 1561.6 635.7 1562.1 635.4 1562.6 635.1 1563.1 634.5 1563.6 633.7 1564.1 632.9 1564.6 632.1 1565.1 631.6 1565.6 631.3 1566.1 631.1 1566.6 631.0 1567.1 631.0 1567.6 631.1 1568.1 631.3 1568.6 631.8 1569.1 632.4 1569.6 633.2 1570.1 634.0 1570.6 634.7 1571.1 635.3 1571.6 635.6 1572.1 635.8 1572.6 635.8 1573.1 635.8 1573.6 635.7 1574.1 635.4 1574.6 635.0 1575.1 634.3 1575.6 633.5 1576.1 632.7 1576.6 631.9 1577.1 631.4 1577.6 631.1 1578.1 630.9 1578.6 630.9 1579.1 630.9 1579.6 631.0 1580.1 631.3 1580.6 631.8 1581.1 632.5 1581.6 633.3 1582.1 634.1 1582.6 634.8 1583.1 635.3 1583.6 635.6 1584.1 635.8 1584.6 635.9 1585.1 635.8 1585.6 635.6 1586.1 635.3 1586.6 634.8 1587.1 634.1 1587.6 633.2 1588.1 632.4 1588.6 631.7 1589.1 631.2 1589.6 630.9 1590.1 630.7 1590.6 630.7 1591.1 630.8 1591.6 630.9 1592.1 631.3 1592.6 631.8 1593.1 632.5 1593.6 633.4 1594.1 634.3 1594.6 635.0 1595.1 635.4 1595.6 635.7 1596.1 635.8 1596.6 635.8 1597.1 635.8 1597.6 635.5 1598.1 635.2 1598.6 634.6 1599.1 633.8 1599.6 632.9 1600.1 632.0 1600.6 631.4 1601.1 630.9 1601.6 630.7 1602.1 630.5 1602.6 630.5 1603.1 630.6 1603.6 630.8 1604.1 631.2 1604.6 631.8 1605.1 632.7 1605.6 633.6 1606.1 634.4 1606.6 635.1 1607.1 635.5 1607.6 635.7 1608.1 635.8 1608.6 635.8 1609.1 635.7 1609.6 635.4 1610.1 635.0 1610.6 634.3 1611.1 633.4 1611.6 632.5 1612.1 631.6 1612.6 631.0 1613.1 630.6 1613.6 630.4 1614.1 630.3 1614.6 630.3 1615.1 630.4 1615.6 630.7 1616.1 631.2 1616.6 631.9 1617.1 632.8 1617.6 633.8 1618.1 634.6 1618.6 635.2 1619.1 635.5 1619.6 635.7 1620.1 635.8 1620.6 635.7 1621.1 635.6 1621.6 635.2 1622.1 634.7 1622.6 633.9 1623.1 632.9 1623.6 631.9 1624.1 631.1 1624.6 630.5 1625.1 630.2 1625.6 630.0 1626.1 629.9 1626.6 630.0 1627.1 630.1 1627.6 630.5 1628.1 631.1 1628.6 631.9 1629.1 632.9 1629.6 633.9 1630.1 634.7 1630.6 635.2 1631.1 635.5 1631.6 635.7 1632.1 635.7 1632.6 635.6 1633.1 635.3 1633.6 634.9 1634.1 634.2 1634.6 633.3 1635.1 632.2 1635.6 631.3 1636.1 630.5 1636.6 630.0 1637.1 629.6 1637.6 629.5 1638.1 629.5 1638.6 629.6 1639.1 629.8 1639.6 630.3 1640.1 631.0 1640.6 632.0 1641.1 633.0 1641.6 634.0 1642.1 634.7 1642.6 635.2 1643.1 635.4 1643.6 635.5 1644.1 635.5 1644.6 635.3 1645.1 635.0 1645.6 634.5 1646.1 633.7 1646.6 632.6 1647.1 631.5 1647.6 630.5 1648.1 629.8 1648.6 629.4 1649.1 629.1 1649.6 629.0 1650.1 629.0 1650.6 629.2 1651.1 629.5 1651.6 630.1 1652.1 630.9 1652.6 632.0 1653.1 633.1 1653.6 634.0 1654.1 634.7 1654.6 635.1 1655.1 635.3 1655.6 635.3 1656.1 635.3 1656.6 635.0 1657.1 634.6 1657.6 633.9 1658.1 633.0 1658.6 631.8 1659.1 630.7 1659.6 629.8 1660.1 629.1 1660.6 628.7 1661.1 628.5 1661.6 628.5 1662.1 628.5 1662.6 628.8 1663.1 629.2 1663.6 629.9 1664.1 630.9 1664.6 632.1 1665.1 633.2 1665.6 634.1 1666.1 634.6 1666.6 634.9 1667.1 635.1 1667.6 635.1 1668.1 635.0 1668.6 634.6 1669.1 634.1 1669.6 633.3 1670.1 632.2 1670.6 630.9 1671.1 629.8 1671.6 629.0 1672.1 628.4 1672.6 628.1 1673.1 627.9 1673.6 627.9 1674.1 628.0 1674.6 628.3 1675.1 628.9 1675.6 629.8 1676.1 630.9 1676.6 632.1 1677.1 633.2 1677.6 634.0 1678.1 634.5 1678.6 634.7 1679.1 634.8 1679.6 634.7 1680.1 634.5 1680.6 634.1 1681.1 633.4 1681.6 632.4 1682.1 631.2 1682.6 629.9 1683.1 628.8 1683.6 628.1 1684.1 627.6 1684.6 627.3 1685.1 627.2 1685.6 627.2 1686.1 627.4 1686.6 627.9 1687.1 628.6 1687.6 629.6 1688.1 630.9 1688.6 632.1 1689.1 633.1 1689.6 633.8 1690.1 634.2 1690.6 634.4 1691.1 634.4 1691.6 634.3 1692.1 634.0 1692.6 633.4 1693.1 632.6 1693.6 631.4 1694.1 630.1 1694.6 628.8 1695.1 627.8 1695.6 627.1 1696.1 626.7 1696.6 626.5 1697.1 626.5 1697.6 626.6 1698.1 626.9 1698.6 627.5 1699.1 628.4 1699.6 629.5 1700.1 630.9 1700.6 632.1 1701.1 633.0 1701.6 633.6 1702.1 633.9 1702.6 634.1 1703.1 634.0 1703.6 633.8 1704.1 633.4 1704.6 632.8 1705.1 631.8 1705.6 630.4 1706.1 629.1 1706.6 627.8 1707.1 626.9 1707.6 626.3 1708.1 626.0 1708.6 625.9 1709.1 625.9 1709.6 626.1 1710.1 626.5 1710.6 627.2 1711.1 628.3 1711.6 629.6 1712.1 631.0 1712.6 632.2 1713.1 633.0 1713.6 633.5 1714.1 633.8 1714.6 633.9 1715.1 633.8 1715.6 633.5 1716.1 633.0 1716.6 632.2 1717.1 631.0 1717.6 629.6 1718.1 628.1 1718.6 626.9 1719.1 626.1 1719.6 625.6 1720.1 625.3 1720.6 625.2 1721.1 625.3 1721.6 625.6 1722.1 626.2 1722.6 627.1 1723.1 628.3 1723.6 629.8 1724.1 631.3 1724.6 632.4 1725.1 633.2 1725.6 633.6 1726.1 633.9 1726.6 633.9 1727.1 633.7 1727.6 633.4 1728.1 632.7 1728.6 631.7 1729.1 630.3 1729.6 628.7 1730.1 627.2 1730.6 626.1 1731.1 625.3 1731.6 624.8 1732.1 624.6 1732.6 624.6 1733.1 624.8 1733.6 625.2 1734.1 625.9 1734.6 627.0 1735.1 628.5 1735.6 630.1 1736.1 631.5 1736.6 632.6 1737.1 633.2 1737.6 633.6 1738.1 633.7 1738.6 633.7 1739.1 633.4 1739.6 632.9 1740.1 632.1 1740.6 630.9 1741.1 629.3 1741.6 627.7 1742.1 626.3 1742.6 625.3 1743.1 624.6 1743.6 624.2 1744.1 624.1 1744.6 624.1 1745.1 624.4 1745.6 624.9 1746.1 625.7 1746.6 627.0 1747.1 628.5 1747.6 630.1 1748.1 631.4 1748.6 632.3 1749.1 632.8 1749.6 633.1 1750.1 633.2 1750.6 633.1 1751.1 632.8 1751.6 632.2 1752.1 631.2 1752.6 629.9 1753.1 628.3 1753.6 626.7 1754.1 625.4 1754.6 624.5 1755.1 623.9 1755.6 623.6 1756.1 623.5 1756.6 623.6 1757.1 623.9 1757.6 624.5 1758.1 625.5 1758.6 626.9 1759.1 628.4 1759.6 630.0 1760.1 631.2 1760.6 632.0 1761.1 632.5 1761.6 632.7 1762.1 632.7 1762.6 632.6 1763.1 632.2 1763.6 631.5 1764.1 630.5 1764.6 629.0 1765.1 627.4 1765.6 625.9 1766.1 624.7 1766.6 623.9 1767.1 623.5 1767.6 623.2 1768.1 623.2 1768.6 623.4 1769.1 623.8 1769.6 624.5 1770.1 625.6 1770.6 627.0 1771.1 628.7 1771.6 630.1 1772.1 631.3 1772.6 632.0 1773.1 632.5 1773.6 632.7 1774.1 632.7 1774.6 632.5 1775.1 632.1 1775.6 631.3 1776.1 630.2 1776.6 628.6 1777.1 627.0 1777.6 625.5 1778.1 624.4 1778.6 623.7 1779.1 623.3 1779.6 623.1 1780.1 623.1 1780.6 623.4 1781.1 623.9 1781.6 624.7 1782.1 626.0 1782.6 627.6 1783.1 629.3 1783.6 630.8 1784.1 631.9 1784.6 632.6 1785.1 633.0 1785.6 633.2 1786.1 633.1 1786.6 632.9 1787.1 632.3 1787.6 631.4 1788.1 630.1 1788.6 628.4 1789.1 626.7 1789.6 625.2 1790.1 624.2 1790.6 623.6 1791.1 623.2 1791.6 623.1 1792.1 623.2 1792.6 623.6 1793.1 624.2 1793.6 625.2 1794.1 626.7 1794.6 628.5 1795.1 630.2 1795.6 631.7 1796.1 632.7 1796.6 633.3 1797.1 633.7 1797.6 633.8 1798.1 633.7 1798.6 633.3 1799.1 632.7 1799.6 631.6 1800.1 630.0 1800.6 628.2 1801.1 626.5 1801.6 625.1 1802.1 624.2 1802.6 623.6 1803.1 623.4 1803.6 623.4 1804.1 623.6 1804.6 624.0 1805.1 624.8 1805.6 626.0 1806.1 627.6 1806.6 629.4 1807.1 631.1 1807.6 632.4 1808.1 633.3 1808.6 633.8 1809.1 634.0 1809.6 634.1 1810.1 633.9 1810.6 633.4 1811.1 632.7 1811.6 631.4 1812.1 629.8 1812.6 628.1 1813.1 626.5 1813.6 625.3 1814.1 624.6 1814.6 624.2 1815.1 624.0 1815.6 624.0 1816.1 624.3 1816.6 624.8 1817.1 625.7 1817.6 627.0 1818.1 628.7 1818.6 630.5 1819.1 632.0 1819.6 633.1 1820.1 633.9 1820.6 634.3 1821.1 634.4 1821.6 634.4 1822.1 634.1 1822.6 633.6 1823.1 632.7 1823.6 631.4 1824.1 629.7 1824.6 628.0 1825.1 626.6 1825.6 625.7 1826.1 625.1 1826.6 624.8 1827.1 624.7 1827.6 624.8 1828.1 625.2 1828.6 625.8 1829.1 626.8 1829.6 628.2 1830.1 629.9 1830.6 631.5 1831.1 632.9 1831.6 633.8 1832.1 634.4 1832.6 634.7 1833.1 634.7 1833.6 634.6 1834.1 634.3 1834.6 633.7 1835.1 632.7 1835.6 631.3 1836.1 629.7 1836.6 628.1 1837.1 626.9 1837.6 626.1 1838.1 625.7 1838.6 625.5 1839.1 625.5 1839.6 625.7 1840.1 626.1 1840.6 626.8 1841.1 628.0 1841.6 629.4 1842.1 631.1 1842.6 632.6 1843.1 633.7 1843.6 634.4 1844.1 634.9 1844.6 635.1 1845.1 635.1 1845.6 634.9 1846.1 634.5 1846.6 633.8 1847.1 632.7 1847.6 631.2 1848.1 629.7 1848.6 628.3 1849.1 627.3 1849.6 626.7 1850.1 626.4 1850.6 626.3 1851.1 626.4 1851.6 626.6 1852.1 627.1 1852.6 627.9 1853.1 629.1 1853.6 630.6 1854.1 632.2 1854.6 633.5 1855.1 634.4 1855.6 635.0 1856.1 635.3 1856.6 635.4 1857.1 635.3 1857.6 635.1 1858.1 634.6 1858.6 633.8 1859.1 632.6 1859.6 631.2 1860.1 629.8 1860.6 628.6 1861.1 627.8 1861.6 627.4 1862.1 627.2 1862.6 627.1 1863.1 627.3 1863.6 627.6 1864.1 628.2 1864.6 629.1 1865.1 630.3 1865.6 631.8 1866.1 633.2 1866.6 634.3 1867.1 635.0 1867.6 635.4 1868.1 635.7 1868.6 635.7 1869.1 635.6 1869.6 635.3 1870.1 634.7 1870.6 633.8 1871.1 632.6 1871.6 631.2 1872.1 630.0 1872.6 629.0 1873.1 628.4 1873.6 628.1 1874.1 628.0 1874.6 628.0 1875.1 628.2 1875.6 628.6 1876.1 629.3 1876.6 630.3 1877.1 631.5 1877.6 632.9 1878.1 634.1 1878.6 635.0 1879.1 635.6 1879.6 635.9 1880.1 636.0 1880.6 636.0 1881.1 635.8 1881.6 635.5 1882.1 634.8 1882.6 633.9 1883.1 632.7 1883.6 631.5 1884.1 630.4 1884.6 629.7 1885.1 629.2 1885.6 629.0 1886.1 629.0 1886.6 629.1 1887.1 629.3 1887.6 629.8 1888.1 630.5 1888.6 631.5 1889.1 632.7 1889.6 634.0 1890.1 635.0 1890.6 635.7 1891.1 636.1 1891.6 636.3 1892.1 636.4 1892.6 636.3 1893.1 636.1 1893.6 635.7 1894.1 635.0 1894.6 634.0 1895.1 632.9 1895.6 631.8 1896.1 631.0 1896.6 630.4 1897.1 630.1 1897.6 630.0 1898.1 630.0 1898.6 630.1 1899.1 630.4 1899.6 630.9 1900.1 631.7 1900.6 632.7 1901.1 633.8 1901.6 634.9 1902.1 635.7 1902.6 636.2 1903.1 636.6 1903.6 636.7 1904.1 636.7 1904.6 636.6 1905.1 636.3 1905.6 635.9 1906.1 635.1 1906.6 634.2 1907.1 633.2 1907.6 632.3 1908.1 631.6 1908.6 631.2 1909.1 631.0 1909.6 630.9 1910.1 631.0 1910.6 631.2 1911.1 631.5 1911.6 632.0 1912.1 632.8 1912.6 633.8 1913.1 634.8 1913.6 635.7 1914.1 636.3 1914.6 636.7 1915.1 636.9 1915.6 637.0 1916.1 637.0 1916.6 636.8 1917.1 636.5 1917.6 636.1 1918.1 635.3 1918.6 634.4 1919.1 633.6 1919.6 632.8 1920.1 632.3 1920.6 632.0 1921.1 631.8 1921.6 631.8 1922.1 631.9 1922.6 632.1 1923.1 632.4 1923.6 633.0 1924.1 633.9 1924.6 634.9 1925.1 635.9 1925.6 636.7 1926.1 637.3 1926.6 637.7 1927.1 637.9 1927.6 638.0 1928.1 637.9 1928.6 637.8 1929.1 637.4 1929.6 636.8 1930.1 635.9 1930.6 634.9 1931.1 633.9 1931.6 633.2 1932.1 632.7 1932.6 632.4 1933.1 632.3 1933.6 632.3 1934.1 632.4 1934.6 632.7 1935.1 633.2 1935.6 633.9 1936.1 635.0 1936.6 636.1 1937.1 637.1 1937.6 637.9 1938.1 638.5 1938.6 638.8 1939.1 639.0 1939.6 639.0 1940.1 638.9 1940.6 638.6 1941.1 638.0 1941.6 637.2 1942.1 636.1 1942.6 635.0 1943.1 633.9 1943.6 633.1 1944.1 632.6 1944.6 632.3 1945.1 632.1 1945.6 632.1 1946.1 632.3 1946.6 632.6 1947.1 633.3 1947.6 634.2 1948.1 635.4 1948.6 636.7 1949.1 637.8 1949.6 638.7 1950.1 639.2 1950.6 639.5 1951.1 639.6 1951.6 639.6 1952.1 639.4 1952.6 638.9 1953.1 638.2 1953.6 637.1 1954.1 635.8 1954.6 634.4 1955.1 633.2 1955.6 632.4 1956.1 631.8 1956.6 631.6 1957.1 631.4 1957.6 631.5 1958.1 631.8 1958.6 632.3 1959.1 633.1 1959.6 634.4 1960.1 635.9 1960.6 637.3 1961.1 638.6 1961.6 639.4 1962.1 639.9 1962.6 640.2 1963.1 640.3 1963.6 640.2 1964.1 639.9 1964.6 639.3 1965.1 638.3 1965.6 636.9 1966.1 635.3 1966.6 633.7 1967.1 632.5 1967.6 631.6 1968.1 631.1 1968.6 630.8 1969.1 630.8 1969.6 630.9 1970.1 631.3 1970.6 632.0 1971.1 633.1 1971.6 634.7 1972.1 636.5 1972.6 638.1 1973.1 639.4 1973.6 640.3 1974.1 640.8 1974.6 641.1 1975.1 641.1 1975.6 640.9 1976.1 640.5 1976.6 639.7 1977.1 638.4 1977.6 636.7 1978.1 634.9 1978.6 633.1 1979.1 631.8 1979.6 631.0 1980.1 630.5 1980.6 630.2 1981.1 630.2 1981.6 630.5 1982.1 631.0 1982.6 632.0 1983.1 633.4 1983.6 635.3 1984.1 637.3 1984.6 639.1 1985.1 640.4 1985.6 641.3 1986.1 641.8 1986.6 642.1 1987.1 642.1 1987.6 641.8 1988.1 641.2 1988.6 640.2 1989.1 638.6 1989.6 636.6 1990.1 634.4 1990.6 632.6 1991.1 631.2 1991.6 630.4 1992.1 629.9 1992.6 629.7 1993.1 629.8 1993.6 630.1 1994.1 630.8 1994.6 632.0 1995.1 633.7 1995.6 635.9 1996.1 638.1 1996.6 640.0 1997.1 641.3 1997.6 642.1 1998.1 642.6 1998.6 642.8 1999.1 642.7 1999.6 642.3 2000.1 641.5 2000.6 640.3 2001.1 638.5 2001.6 636.2 2002.1 634.0 2002.6 632.1 2003.1 630.8 2003.6 630.0 2004.1 629.5 2004.6 629.4 2005.1 629.5 2005.6 629.9 2006.1 630.8 2006.6 632.1 2007.1 634.1 2007.6 636.4 2008.1 638.7 2008.6 640.6 2009.1 641.9 2009.6 642.7 2010.1 643.1 2010.6 643.3 2011.1 643.1 2011.6 642.7 2012.1 641.8 2012.6 640.3 2013.1 638.3 2013.6 635.9 2014.1 633.6 2014.6 631.7 2015.1 630.4 2015.6 629.6 2016.1 629.2 2016.6 629.1 2017.1 629.3 2017.6 629.8 2018.1 630.7 2018.6 632.3 2019.1 634.4 2019.6 636.9 2020.1 639.3 2020.6 641.2 2021.1 642.6 2021.6 643.4 2022.1 643.8 2022.6 643.9 2023.1 643.7 2023.6 643.2 2024.1 642.2 2024.6 640.5 2025.1 638.3 2025.6 635.8 2026.1 633.3 2026.6 631.4 2027.1 630.1 2027.6 629.3 2028.1 628.9 2028.6 628.9 2029.1 629.1 2029.6 629.7 2030.1 630.8 2030.6 632.5 2031.1 634.8 2031.6 637.5 2032.1 640.1 2032.6 642.0 2033.1 643.4 2033.6 644.2 2034.1 644.6 2034.6 644.7 2035.1 644.4 2035.6 643.8 2036.1 642.7 2036.6 640.9 2037.1 638.5 2037.6 635.8 2038.1 633.2 2038.6 631.2 2039.1 629.8 2039.6 629.0 2040.1 628.7 2040.6 628.6 2041.1 628.9 2041.6 629.5 2042.1 630.7 2042.6 632.6 2043.1 635.1 2043.6 637.9 2044.1 640.6 2044.6 642.6 2045.1 644.0 2045.6 644.8 2046.1 645.2 2046.6 645.2 2047.1 645.0 2047.6 644.3 2048.1 643.1 2048.6 641.2 2049.1 638.6 2049.6 635.7 2050.1 633.0 2050.6 630.9 2051.1 629.6 2051.6 628.7 2052.1 628.4 2052.6 628.3 2053.1 628.6 2053.6 629.4 2054.1 630.6 2054.6 632.6 2055.1 635.2 2055.6 638.2 2056.1 640.9 2056.6 643.0 2057.1 644.4 2057.6 645.3 2058.1 645.7 2058.6 645.8 2059.1 645.5 2059.6 644.8 2060.1 643.6 2060.6 641.8 2061.1 639.2 2061.6 636.4 2062.1 633.7 2062.6 631.7 2063.1 630.3 2063.6 629.6 2064.1 629.2 2064.6 629.3 2065.1 629.6 2065.6 630.4 2066.1 631.7 2066.6 633.6 2067.1 636.3 2067.6 639.3 2068.1 642.1 2068.6 644.2 2069.1 645.7 2069.6 646.6 2070.1 647.1 2070.6 647.2 2071.1 647.0 2071.6 646.4 2072.1 645.3 2072.6 643.5 2073.1 641.0 2073.6 638.1 2074.1 635.5 2074.6 633.4 2075.1 632.0 2075.6 631.2 2076.1 630.9 2076.6 630.9 2077.1 631.2 2077.6 631.9 2078.1 633.2 2078.6 635.1 2079.1 637.7 2079.6 640.6 2080.1 643.5 2080.6 645.7 2081.1 647.3 2081.6 648.2 2082.1 648.7 2082.6 648.9 2083.1 648.7 2083.6 648.1 2084.1 647.1 2084.6 645.4 2085.1 643.0 2085.6 640.1 2086.1 637.4 2086.6 635.3 2087.1 633.9 2087.6 633.0 2088.1 632.6 2088.6 632.6 2089.1 632.9 2089.6 633.6 2090.1 634.8 2090.6 636.6 2091.1 639.1 2091.6 642.0 2092.1 644.9 2092.6 647.3 2093.1 648.9 2093.6 650.0 2094.1 650.6 2094.6 650.8 2095.1 650.7 2095.6 650.2 2096.1 649.3 2096.6 647.7 2097.1 645.4 2097.6 642.6 2098.1 639.9 2098.6 637.7 2099.1 636.2 2099.6 635.3 2100.1 634.8 2100.6 634.8 2101.1 635.0 2101.6 635.7 2102.1 636.8 2102.6 638.5 2103.1 640.9 2103.6 643.8 2104.1 646.8 2104.6 649.3 2105.1 651.1 2105.6 652.3 2106.1 653.0 2106.6 653.3 2107.1 653.3 2107.6 652.9 2108.1 652.1 2108.6 650.7 2109.1 648.6 2109.6 645.9 2110.1 643.2 2110.6 640.9 2111.1 639.2 2111.6 638.2 2112.1 637.8 2112.6 637.7 2113.1 637.9 2113.6 638.5 2114.1 639.5 2114.6 641.1 2115.1 643.4 2115.6 646.3 2116.1 649.3 2116.6 652.0 2117.1 654.0 2117.6 655.4 2118.1 656.2 2118.6 656.6 2119.1 656.7 2119.6 656.5 2120.1 655.8 2120.6 654.6 2121.1 652.7 2121.6 650.2 2122.1 647.5 2122.6 645.1 2123.1 643.3 2123.6 642.2 2124.1 641.7 2124.6 641.5 2125.1 641.7 2125.6 642.3 2126.1 643.2 2126.6 644.7 2127.1 646.9 2127.6 649.7 2128.1 652.8 2128.6 655.7 2129.1 657.9 2129.6 659.5 2130.1 660.5 2130.6 661.1 2131.1 661.4 2131.6 661.4 2132.1 660.9 2132.6 659.9 2133.1 658.3 2133.6 656.0 2134.1 653.4 2134.6 651.0 2135.1 649.1 2135.6 647.9 2136.1 647.3 2136.6 647.2 2137.1 647.4 2137.6 647.9 2138.1 648.8 2138.6 650.2 2139.1 652.2 2139.6 655.0 2140.1 658.1 2140.6 661.2 2141.1 663.7 2141.6 665.5 2142.1 666.8 2142.6 667.5 2143.1 668.0 2143.6 668.1 2144.1 667.8 2144.6 667.1 2145.1 665.7 2145.6 663.6 2146.1 661.1 2146.6 658.6 2147.1 656.5 2147.6 655.2 2148.1 654.4 2148.6 654.2 2149.1 654.3 2149.6 654.7 2150.1 655.5 2150.6 656.7 2151.1 658.6 2151.6 661.1 2152.1 664.2 2152.6 667.3 2153.1 670.1 2153.6 672.1 2154.1 673.6 2154.6 674.5 2155.1 675.0 2155.6 675.3 2156.1 675.2 2156.6 674.6 2157.1 673.5 2157.6 671.7 2158.1 669.3 2158.6 666.8 2159.1 664.6 2159.6 663.0 2160.1 662.2 2160.6 661.8 2161.1 661.8 2161.6 662.2 2162.1 662.9 2162.6 664.0 2163.1 665.6 2163.6 667.9 2164.1 670.8 2164.6 674.0 2165.1 676.9 2165.6 679.3 2166.1 680.9 2166.6 682.0 2167.1 682.8 2167.6 683.1 2168.1 683.2 2168.6 682.9 2169.1 682.0 2169.6 680.5 2170.1 678.4 2170.6 675.9 2171.1 673.6 2171.6 671.9 2172.1 670.8 2172.6 670.3 2173.1 670.2 2173.6 670.5 2174.1 671.1 2174.6 672.1 2175.1 673.5 2175.6 675.6 2176.1 678.3 2176.6 681.5 2177.1 684.6 2177.6 687.2 2178.1 689.2 2178.6 690.5 2179.1 691.4 2179.6 692.0 2180.1 692.2 2180.6 692.1 2181.1 691.6 2181.6 690.5 2182.1 688.6 2182.6 686.3 2183.1 684.0 2183.6 682.0 2184.1 680.8 2184.6 680.1 2185.1 679.9 2185.6 680.1 2186.1 680.6 2186.6 681.4 2187.1 682.6 2187.6 684.4 2188.1 686.8 2188.6 689.8 2189.1 693.0 2189.6 695.8 2190.1 697.9 2190.6 699.5 2191.1 700.5 2191.6 701.1 2192.1 701.5 2192.6 701.5 2193.1 701.1 2193.6 700.2 2194.1 698.6 2194.6 696.4 2195.1 694.0 2195.6 691.8" stroke="#008000"/><path d="M245.1 592.9L245.6 595.2 246.1 600.7 246.6 609.5 247.1 617.4 247.6 621.6 248.1 623.2 248.6 623.8 249.1 623.7 249.6 623.3 250.1 622.7 250.6 621.8 251.1 620.1 251.6 616.7 252.1 610.3 252.6 601.9 253.1 595.8 253.6 592.8 254.1 591.7 254.6 591.2 255.1 591.0 255.6 591.0 256.1 591.1 256.6 591.6 257.1 593.0 257.6 596.2 258.1 602.3 258.6 609.3 259.1 613.9 259.6 615.9 260.1 616.5 260.6 616.5 261.1 616.2 261.6 615.7 262.1 615.0 262.6 614.0 263.1 612.1 263.6 608.4 264.1 602.4 264.6 596.7 265.1 593.3 265.6 592.0 266.1 591.6 266.6 591.6 267.1 591.7 267.6 591.8 268.1 592.2 268.6 592.8 269.1 594.4 269.6 597.8 270.1 602.9 270.6 607.3 271.1 609.6 271.6 610.6 272.1 610.9 272.6 610.9 273.1 610.9 273.6 610.7 274.1 610.3 274.6 609.6 275.1 607.9 275.6 604.5 276.1 599.9 276.6 596.3 277.1 594.6 277.6 593.9 278.1 593.7 278.6 593.7 279.1 593.8 279.6 594.0 280.1 594.4 280.6 595.1 281.1 596.9 281.6 600.2 282.1 604.3 282.6 607.2 283.1 608.5 283.6 609.1 284.1 609.3 284.6 609.3 285.1 609.3 285.6 609.2 286.1 608.9 286.6 608.2 287.1 606.6 287.6 603.5 288.1 600.1 288.6 597.9 289.1 597.0 289.6 596.7 290.1 596.7 290.6 596.8 291.1 597.0 291.6 597.3 292.1 597.7 292.6 598.5 293.1 600.3 293.6 603.1 294.1 606.1 294.6 608.0 295.1 608.8 295.6 609.2 296.1 609.3 296.6 609.4 297.1 609.4 297.6 609.3 298.1 609.1 298.6 608.5 299.1 607.2 299.6 604.9 300.1 602.8 300.6 601.6 301.1 601.2 301.6 601.1 302.1 601.3 302.6 601.4 303.1 601.7 303.6 602.0 304.1 602.4 304.6 603.2 305.1 604.5 305.6 606.4 306.1 608.0 306.6 609.1 307.1 609.6 307.6 609.8 308.1 609.9 308.6 609.9 309.1 609.9 309.6 609.8 310.1 609.6 310.6 609.2 311.1 608.5 311.6 607.6 312.1 606.8 312.6 606.4 313.1 606.3 313.6 606.4 314.1 606.6 314.6 606.8 315.1 607.1 315.6 607.4 316.1 607.7 316.6 608.2 317.1 608.7 317.6 609.3 318.1 609.7 318.6 610.0 319.1 610.2 319.6 610.3 320.1 610.3 320.6 610.4 321.1 610.4 321.6 610.4 322.1 610.5 322.6 610.5 323.1 610.7 323.6 611.0 324.1 611.4 324.6 611.9 325.1 612.4 325.6 612.8 326.1 613.2 326.6 613.6 327.1 613.9 327.6 614.1 328.1 614.1 328.6 613.9 329.1 613.4 329.6 612.7 330.1 611.8 330.6 611.1 331.1 610.6 331.6 610.4 332.1 610.3 332.6 610.3 333.1 610.4 333.6 610.7 334.1 611.2 334.6 611.9 335.1 613.0 335.6 614.3 336.1 615.6 336.6 616.7 337.1 617.5 337.6 618.1 338.1 618.5 338.6 618.7 339.1 618.8 339.6 618.7 340.1 618.4 340.6 617.8 341.1 616.9 341.6 615.8 342.1 614.6 342.6 613.6 343.1 612.9 343.6 612.5 344.1 612.3 344.6 612.3 345.1 612.4 345.6 612.7 346.1 613.1 346.6 613.9 347.1 615.0 347.6 616.3 348.1 617.8 348.6 619.1 349.1 620.0 349.6 620.7 350.1 621.1 350.6 621.4 351.1 621.5 351.6 621.4 352.1 621.1 352.6 620.5 353.1 619.7 353.6 618.5 354.1 617.2 354.6 616.0 355.1 615.1 355.6 614.5 356.1 614.2 356.6 614.1 357.1 614.1 357.6 614.4 358.1 614.8 358.6 615.4 359.1 616.4 359.6 617.7 360.1 619.1 360.6 620.5 361.1 621.7 361.6 622.5 362.1 623.0 362.6 623.3 363.1 623.5 363.6 623.5 364.1 623.3 364.6 622.9 365.1 622.1 365.6 621.0 366.1 619.7 366.6 618.4 367.1 617.3 367.6 616.5 368.1 616.1 368.6 615.9 369.1 615.8 369.6 616.0 370.1 616.3 370.6 616.8 371.1 617.6 371.6 618.8 372.1 620.3 372.6 621.8 373.1 623.2 373.6 624.2 374.1 624.9 374.6 625.3 375.1 625.5 375.6 625.5 376.1 625.4 376.6 625.1 377.1 624.4 377.6 623.4 378.1 622.1 378.6 620.6 379.1 619.2 379.6 618.1 380.1 617.4 380.6 616.9 381.1 616.7 381.6 616.7 382.1 616.9 382.6 617.2 383.1 617.9 383.6 618.9 384.1 620.3 384.6 621.9 385.1 623.5 385.6 624.8 386.1 625.7 386.6 626.3 387.1 626.6 387.6 626.7 388.1 626.6 388.6 626.4 389.1 625.9 389.6 625.0 390.1 623.8 390.6 622.2 391.1 620.6 391.6 619.3 392.1 618.2 392.6 617.6 393.1 617.2 393.6 617.1 394.1 617.1 394.6 617.3 395.1 617.8 395.6 618.6 396.1 619.7 396.6 621.2 397.1 622.8 397.6 624.4 398.1 625.6 398.6 626.4 399.1 626.8 399.6 627.1 400.1 627.1 400.6 627.0 401.1 626.6 401.6 626.0 402.1 625.0 402.6 623.6 403.1 621.9 403.6 620.3 404.1 618.9 404.6 618.0 405.1 617.4 405.6 617.0 406.1 616.9 406.6 617.0 407.1 617.2 407.6 617.8 408.1 618.6 408.6 619.9 409.1 621.5 409.6 623.2 410.1 624.7 410.6 625.8 411.1 626.5 411.6 627.0 412.1 627.1 412.6 627.1 413.1 626.9 413.6 626.4 414.1 625.7 414.6 624.5 415.1 623.0 415.6 621.3 416.1 619.6 416.6 618.3 417.1 617.5 417.6 616.9 418.1 616.6 418.6 616.5 419.1 616.6 419.6 616.9 420.1 617.5 420.6 618.5 421.1 619.8 421.6 621.4 422.1 623.1 422.6 624.4 423.1 625.4 423.6 626.0 424.1 626.4 424.6 626.4 425.1 626.4 425.6 626.1 426.1 625.5 426.6 624.6 427.1 623.4 427.6 621.8 428.1 620.0 428.6 618.4 429.1 617.2 429.6 616.4 430.1 615.9 430.6 615.6 431.1 615.5 431.6 615.6 432.1 616.0 432.6 616.6 433.1 617.6 433.6 618.9 434.1 620.6 434.6 622.1 435.1 623.3 435.6 624.2 436.1 624.6 436.6 624.8 437.1 624.8 437.6 624.6 438.1 624.2 438.6 623.6 439.1 622.7 439.6 621.4 440.1 619.8 440.6 618.1 441.1 616.7 441.6 615.7 442.1 615.0 442.6 614.6 443.1 614.4 443.6 614.4 444.1 614.5 444.6 614.8 445.1 615.5 445.6 616.4 446.1 617.6 446.6 619.0 447.1 620.3 447.6 621.2 448.1 621.9 448.6 622.2 449.1 622.3 449.6 622.3 450.1 622.1 450.6 621.7 451.1 621.1 451.6 620.2 452.1 618.9 452.6 617.5 453.1 616.0 453.6 614.7 454.1 613.8 454.6 613.2 455.1 612.8 455.6 612.7 456.1 612.6 456.6 612.7 457.1 613.1 457.6 613.7 458.1 614.6 458.6 615.9 459.1 617.2 459.6 618.4 460.1 619.3 460.6 619.8 461.1 620.1 461.6 620.2 462.1 620.2 462.6 619.9 463.1 619.5 463.6 618.9 464.1 618.0 464.6 616.7 465.1 615.2 465.6 613.8 466.1 612.6 466.6 611.7 467.1 611.2 467.6 610.8 468.1 610.6 468.6 610.6 469.1 610.7 469.6 611.0 470.1 611.6 470.6 612.6 471.1 613.7 471.6 615.0 472.1 616.2 472.6 617.0 473.1 617.5 473.6 617.8 474.1 617.8 474.6 617.8 475.1 617.5 475.6 617.1 476.1 616.5 476.6 615.5 477.1 614.3 477.6 612.9 478.1 611.4 478.6 610.3 479.1 609.4 479.6 608.8 480.1 608.5 480.6 608.3 481.1 608.2 481.6 608.3 482.1 608.6 482.6 609.2 483.1 610.1 483.6 611.2 484.1 612.4 484.6 613.5 485.1 614.3 485.6 614.8 486.1 615.1 486.6 615.1 487.1 615.0 487.6 614.8 488.1 614.4 488.6 613.8 489.1 612.9 489.6 611.6 490.1 610.2 490.6 608.8 491.1 607.7 491.6 606.8 492.1 606.2 492.6 605.8 493.1 605.6 493.6 605.6 494.1 605.7 494.6 605.9 495.1 606.5 495.6 607.3 496.1 608.4 496.6 609.6 497.1 610.6 497.6 611.4 498.1 611.9 498.6 612.2 499.1 612.2 499.6 612.1 500.1 611.9 500.6 611.5 501.1 610.9 501.6 610.0 502.1 608.9 502.6 607.5 503.1 606.1 503.6 604.9 504.1 604.1 504.6 603.5 505.1 603.1 505.6 602.9 506.1 602.8 506.6 602.9 507.1 603.1 507.6 603.6 508.1 604.4 508.6 605.4 509.1 606.6 509.6 607.6 510.1 608.4 510.6 608.9 511.1 609.1 511.6 609.2 512.1 609.1 512.6 608.9 513.1 608.5 513.6 607.9 514.1 607.0 514.6 605.9 515.1 604.5 515.6 603.2 516.1 602.0 516.6 601.1 517.1 600.5 517.6 600.2 518.1 599.9 518.6 599.8 519.1 599.9 519.6 600.1 520.1 600.6 520.6 601.3 521.1 602.3 521.6 603.4 522.1 604.4 522.6 605.2 523.1 605.7 523.6 605.9 524.1 605.9 524.6 605.8 525.1 605.6 525.6 605.2 526.1 604.6 526.6 603.8 527.1 602.7 527.6 601.3 528.1 600.0 528.6 598.9 529.1 598.0 529.6 597.4 530.1 597.0 530.6 596.8 531.1 596.7 531.6 596.7 532.1 596.9 532.6 597.4 533.1 598.1 533.6 599.1 534.1 600.1 534.6 601.1 535.1 601.8 535.6 602.3 536.1 602.5 536.6 602.5 537.1 602.4 537.6 602.1 538.1 601.7 538.6 601.1 539.1 600.3 539.6 599.2 540.1 597.8 540.6 596.5 541.1 595.4 541.6 594.6 542.1 594.0 542.6 593.6 543.1 593.4 543.6 593.3 544.1 593.4 544.6 593.6 545.1 594.0 545.6 594.8 546.1 595.7 546.6 596.8 547.1 597.7 547.6 598.3 548.1 598.7 548.6 598.8 549.1 598.8 549.6 598.7 550.1 598.4 550.6 598.0 551.1 597.3 551.6 596.4 552.1 595.3 552.6 594.0 553.1 592.7 553.6 591.7 554.1 590.9 554.6 590.3 555.1 590.0 555.6 589.8 556.1 589.7 556.6 589.8 557.1 590.0 557.6 590.5 558.1 591.2 558.6 592.2 559.1 593.2 559.6 594.0 560.1 594.6 560.6 594.8 561.1 594.9 561.6 594.9 562.1 594.7 562.6 594.4 563.1 593.9 563.6 593.2 564.1 592.2 564.6 591.0 565.1 589.7 565.6 588.5 566.1 587.6 566.6 586.9 567.1 586.4 567.6 586.1 568.1 586.0 568.6 585.9 569.1 586.1 569.6 586.4 570.1 587.0 570.6 587.8 571.1 588.8 571.6 589.7 572.1 590.4 572.6 590.8 573.1 591.0 573.6 591.1 574.1 591.0 574.6 590.7 575.1 590.3 575.6 589.8 576.1 589.0 576.6 587.9 577.1 586.7 577.6 585.4 578.1 584.4 578.6 583.6 579.1 583.0 579.6 582.6 580.1 582.4 580.6 582.3 581.1 582.4 581.6 582.6 582.1 583.0 582.6 583.7 583.1 584.6 583.6 585.6 584.1 586.4 584.6 587.0 585.1 587.3 585.6 587.4 586.1 587.4 586.6 587.2 587.1 586.9 587.6 586.4 588.1 585.8 588.6 584.8 589.1 583.7 589.6 582.4 590.1 581.2 590.6 580.3 591.1 579.7 591.6 579.2 592.1 578.9 592.6 578.7 593.1 578.7 593.6 578.8 594.1 579.1 594.6 579.7 595.1 580.5 595.6 581.5 596.1 582.3 596.6 583.0 597.1 583.4 597.6 583.6 598.1 583.6 598.6 583.5 599.1 583.2 599.6 582.8 600.1 582.2 600.6 581.4 601.1 580.3 601.6 579.1 602.1 577.8 602.6 576.8 603.1 576.0 603.6 575.5 604.1 575.1 604.6 574.9 605.1 574.8 605.6 574.8 606.1 575.0 606.6 575.5 607.1 576.1 607.6 577.0 608.1 578.0 608.6 578.7 609.1 579.2 609.6 579.4 610.1 579.5 610.6 579.4 611.1 579.2 611.6 578.8 612.1 578.3 612.6 577.6 613.1 576.6 613.6 575.4 614.1 574.1 614.6 573.0 615.1 572.2 615.6 571.6 616.1 571.1 616.6 570.9 617.1 570.7 617.6 570.7 618.1 570.9 618.6 571.2 619.1 571.8 619.6 572.7 620.1 573.6 620.6 574.4 621.1 575.0 621.6 575.3 622.1 575.4 622.6 575.4 623.1 575.2 623.6 574.9 624.1 574.5 624.6 573.8 625.1 572.9 625.6 571.8 626.1 570.6 626.6 569.4 627.1 568.5 627.6 567.8 628.1 567.4 628.6 567.1 629.1 566.9 629.6 566.8 630.1 566.9 630.6 567.2 631.1 567.8 631.6 568.5 632.1 569.4 632.6 570.3 633.1 570.9 633.6 571.3 634.1 571.5 634.6 571.5 635.1 571.4 635.6 571.1 636.1 570.7 636.6 570.2 637.1 569.4 637.6 568.3 638.1 567.1 638.6 565.9 639.1 565.0 639.6 564.3 640.1 563.8 640.6 563.5 641.1 563.3 641.6 563.2 642.1 563.3 642.6 563.6 643.1 564.1 643.6 564.8 644.1 565.7 644.6 566.6 645.1 567.3 645.6 567.8 646.1 568.0 646.6 568.1 647.1 568.0 647.6 567.8 648.1 567.5 648.6 567.0 649.1 566.3 649.6 565.3 650.1 564.1 650.6 563.0 651.1 562.0 651.6 561.3 652.1 560.8 652.6 560.5 653.1 560.3 653.6 560.2 654.1 560.3 654.6 560.5 655.1 561.0 655.6 561.7 656.1 562.6 656.6 563.5 657.1 564.3 657.6 564.8 658.1 565.1 658.6 565.2 659.1 565.1 659.6 565.0 660.1 564.7 660.6 564.2 661.1 563.6 661.6 562.7 662.1 561.6 662.6 560.4 663.1 559.5 663.6 558.7 664.1 558.2 664.6 557.9 665.1 557.8 665.6 557.7 666.1 557.8 666.6 558.0 667.1 558.5 667.6 559.2 668.1 560.1 668.6 561.1 669.1 561.9 669.6 562.5 670.1 562.8 670.6 562.9 671.1 562.9 671.6 562.8 672.1 562.6 672.6 562.2 673.1 561.6 673.6 560.7 674.1 559.7 674.6 558.5 675.1 557.6 675.6 556.9 676.1 556.4 676.6 556.1 677.1 555.9 677.6 555.9 678.1 556.0 678.6 556.2 679.1 556.7 679.6 557.4 680.1 558.3 680.6 559.2 681.1 560.0 681.6 560.6 682.1 561.0 682.6 561.1 683.1 561.2 683.6 561.1 684.1 560.9 684.6 560.5 685.1 559.9 685.6 559.1 686.1 558.1 686.6 557.0 687.1 556.1 687.6 555.4 688.1 555.0 688.6 554.7 689.1 554.6 689.6 554.6 690.1 554.8 690.6 555.0 691.1 555.5 691.6 556.3 692.1 557.3 692.6 558.3 693.1 559.1 693.6 559.8 694.1 560.2 694.6 560.4 695.1 560.5 695.6 560.4 696.1 560.3 696.6 560.0 697.1 559.5 697.6 558.7 698.1 557.8 698.6 556.8 699.1 555.9 699.6 555.3 700.1 554.9 700.6 554.7 701.1 554.7 701.6 554.7 702.1 554.9 702.6 555.2 703.1 555.7 703.6 556.5 704.1 557.5 704.6 558.5 705.1 559.4 705.6 560.0 706.1 560.4 706.6 560.6 707.1 560.7 707.6 560.7 708.1 560.6 708.6 560.3 709.1 559.8 709.6 559.0 710.1 558.1 710.6 557.1 711.1 556.3 711.6 555.8 712.1 555.4 712.6 555.2 713.1 555.2 713.6 555.3 714.1 555.5 714.6 555.8 715.1 556.4 715.6 557.2 716.1 558.2 716.6 559.2 717.1 560.1 717.6 560.8 718.1 561.2 718.6 561.5 719.1 561.7 719.6 561.8 720.1 561.7 720.6 561.5 721.1 561.1 721.6 560.5 722.1 559.7 722.6 558.8 723.1 558.2 723.6 557.8 724.1 557.6 724.6 557.6 725.1 557.8 725.6 558.0 726.1 558.4 726.6 558.9 727.1 559.6 727.6 560.6 728.1 561.8 728.6 562.9 729.1 563.9 729.6 564.6 730.1 565.0 730.6 565.3 731.1 565.5 731.6 565.6 732.1 565.5 732.6 565.3 733.1 564.8 733.6 564.1 734.1 563.2 734.6 562.4 735.1 561.8 735.6 561.3 736.1 561.2 736.6 561.1 737.1 561.2 737.6 561.4 738.1 561.7 738.6 562.3 739.1 563.0 739.6 564.0 740.1 565.1 740.6 566.2 741.1 567.1 741.6 567.7 742.1 568.2 742.6 568.4 743.1 568.6 743.6 568.6 744.1 568.5 744.6 568.2 745.1 567.7 745.6 567.0 746.1 566.1 746.6 565.3 747.1 564.8 747.6 564.5 748.1 564.4 748.6 564.4 749.1 564.6 749.6 564.9 750.1 565.3 750.6 566.0 751.1 566.9 751.6 568.1 752.1 569.3 752.6 570.4 753.1 571.3 753.6 571.9 754.1 572.4 754.6 572.7 755.1 573.0 755.6 573.1 756.1 573.0 756.6 572.7 757.1 572.2 757.6 571.5 758.1 570.8 758.6 570.2 759.1 569.8 759.6 569.7 760.1 569.8 760.6 570.1 761.1 570.4 761.6 570.9 762.1 571.5 762.6 572.4 763.1 573.6 763.6 574.9 764.1 576.2 764.6 577.3 765.1 578.2 765.6 578.8 766.1 579.3 766.6 579.7 767.1 579.9 767.6 580.0 768.1 579.9 768.6 579.5 769.1 579.0 769.6 578.3 770.1 577.6 770.6 577.2 771.1 577.1 771.6 577.1 772.1 577.4 772.6 577.7 773.1 578.2 773.6 578.9 774.1 579.7 774.6 580.8 775.1 582.2 775.6 583.6 776.1 584.9 776.6 585.9 777.1 586.7 777.6 587.4 778.1 587.8 778.6 588.2 779.1 588.4 779.6 588.5 780.1 588.3 780.6 587.9 781.1 587.3 781.6 586.7 782.1 586.3 782.6 586.2 783.1 586.2 783.6 586.5 784.1 586.9 784.6 587.4 785.1 588.0 785.6 588.9 786.1 590.0 786.6 591.3 787.1 592.8 787.6 594.2 788.1 595.4 788.6 596.3 789.1 597.0 789.6 597.6 790.1 598.0 790.6 598.3 791.1 598.5 791.6 598.4 792.1 598.1 792.6 597.5 793.1 596.9 793.6 596.5 794.1 596.2 794.6 596.2 795.1 596.5 795.6 596.8 796.1 597.3 796.6 597.9 797.1 598.7 797.6 599.7 798.1 601.0 798.6 602.5 799.1 604.0 799.6 605.3 800.1 606.3 800.6 607.1 801.1 607.8 801.6 608.3 802.1 608.7 802.6 608.9 803.1 609.0 803.6 608.8 804.1 608.4 804.6 607.8 805.1 607.4 805.6 607.1 806.1 607.1 806.6 607.4 807.1 607.8 807.6 608.3 808.1 609.0 808.6 609.8 809.1 610.9 809.6 612.2 810.1 613.8 810.6 615.4 811.1 616.9 811.6 618.2 812.1 619.3 812.6 620.2 813.1 620.9 813.6 621.6 814.1 622.1 814.6 622.4 815.1 622.5 815.6 622.4 816.1 622.1 816.6 621.7 817.1 621.6 817.6 621.7 818.1 622.1 818.6 622.6 819.1 623.2 819.6 624.0 820.1 624.9 820.6 626.0 821.1 627.3 821.6 628.8 822.1 630.5 822.6 632.1 823.1 633.5 823.6 634.6 824.1 635.5 824.6 636.2 825.1 636.8 825.6 637.3 826.1 637.6 826.6 637.6 827.1 637.5 827.6 637.0 828.1 636.6 828.6 636.2 829.1 636.1 829.6 636.2 830.1 636.6 830.6 637.0 831.1 637.7 831.6 638.4 832.1 639.3 832.6 640.5 833.1 641.9 833.6 643.6 834.1 645.2 834.6 646.7 835.1 647.9 835.6 648.9 836.1 649.7 836.6 650.4 837.1 650.9 837.6 651.3 838.1 651.5 838.6 651.5 839.1 651.2 839.6 650.8 840.1 650.4 840.6 650.2 841.1 650.2 841.6 650.5 842.1 651.0 842.6 651.6 843.1 652.3 843.6 653.2 844.1 654.2 844.6 655.6 845.1 657.1 845.6 658.8 846.1 660.5 846.6 661.9 847.1 663.0 847.6 664.0 848.1 664.7 848.6 665.4 849.1 665.9 849.6 666.3 850.1 666.5 850.6 666.4 851.1 666.1 851.6 665.7 852.1 665.4 852.6 665.4 853.1 665.6 853.6 666.0 854.1 666.6 854.6 667.3 855.1 668.1 855.6 669.1 856.1 670.3 856.6 671.7 857.1 673.4 857.6 675.2 858.1 676.8 858.6 678.2 859.1 679.4 859.6 680.3 860.1 681.1 860.6 681.8 861.1 682.4 861.6 682.8 862.1 682.9 862.6 682.8 863.1 682.5 863.6 682.2 864.1 682.0 864.6 682.0 865.1 682.3 865.6 682.8 866.1 683.4 866.6 684.2 867.1 685.1 867.6 686.1 868.1 687.4 868.6 689.0 869.1 690.7 869.6 692.5 870.1 694.1 870.6 695.5 871.1 696.7 871.6 697.6 872.1 698.4 872.6 699.1 873.1 699.7 873.6 700.1 874.1 700.3 874.6 700.2 875.1 700.0 875.6 699.7 876.1 699.5 876.6 699.6 877.1 700.0 877.6 700.5 878.1 701.2 878.6 702.0 879.1 702.9 879.6 704.0 880.1 705.4 880.6 707.0 881.1 708.8 881.6 710.6 882.1 712.2 882.6 713.6 883.1 714.8 883.6 715.8 884.1 716.6 884.6 717.3 885.1 717.9 885.6 718.3 886.1 718.5 886.6 718.4 887.1 718.1 887.6 717.8 888.1 717.6 888.6 717.7 889.1 718.0 889.6 718.5 890.1 719.1 890.6 719.9 891.1 720.8 891.6 721.8 892.1 723.1 892.6 724.6 893.1 726.4 893.6 728.2 894.1 729.8 894.6 731.2 895.1 732.4 895.6 733.3 896.1 734.1 896.6 734.7 897.1 735.3 897.6 735.6 898.1 735.7 898.6 735.6 899.1 735.2 899.6 734.7 900.1 734.4 900.6 734.3 901.1 734.5 901.6 734.8 902.1 735.3 902.6 735.9 903.1 736.6 903.6 737.5 904.1 738.6 904.6 739.9 905.1 741.5 905.6 743.2 906.1 744.7 906.6 746.0 907.1 747.1 907.6 747.9 908.1 748.6 908.6 749.2 909.1 749.6 909.6 749.8 910.1 749.9 910.6 749.6 911.1 749.1 911.6 748.5 912.1 748.1 912.6 747.8 913.1 747.9 913.6 748.1 914.1 748.5 914.6 749.1 915.1 749.8 915.6 750.6 916.1 751.7 916.6 753.1 917.1 754.7 917.6 756.5 918.1 758.1 918.6 759.5 919.1 760.7 919.6 761.6 920.1 762.3 920.6 762.9 921.1 763.3 921.6 763.6 922.1 763.7 922.6 763.5 923.1 763.0 923.6 762.3 924.1 761.7 924.6 761.4 925.1 761.3 925.6 761.5 926.1 761.8 926.6 762.4 927.1 763.0 927.6 763.9 928.1 764.9 928.6 766.2 929.1 767.9 929.6 769.7 930.1 771.5 930.6 773.0 931.1 774.3 931.6 775.2 932.1 776.0 932.6 776.7 933.1 777.2 933.6 777.5 934.1 777.6 934.6 777.4 935.1 777.0 935.6 776.3 936.1 775.6 936.6 775.2 937.1 775.0 937.6 775.2 938.1 775.5 938.6 776.0 939.1 776.7 939.6 777.5 940.1 778.6 940.6 779.9 941.1 781.6 941.6 783.4 942.1 785.3 942.6 786.9 943.1 788.2 943.6 789.2 944.1 790.0 944.6 790.6 945.1 791.0 945.6 791.3 946.1 791.3 946.6 791.0 947.1 790.4 947.6 789.5 948.1 788.6 948.6 787.9 949.1 787.5 949.6 787.4 950.1 787.5 950.6 787.8 951.1 788.3 951.6 788.9 952.1 789.8 952.6 791.0 953.1 792.5 953.6 794.2 954.1 796.0 954.6 797.6 955.1 798.8 955.6 799.8 956.1 800.4 956.6 800.9 957.1 801.2 957.6 801.4 958.1 801.3 958.6 800.9 959.1 800.1 959.6 799.1 960.1 798.0 960.6 797.1 961.1 796.5 961.6 796.3 962.1 796.3 962.6 796.5 963.1 796.8 963.6 797.4 964.1 798.2 964.6 799.2 965.1 800.7 965.6 802.4 966.1 804.2 966.6 805.7 967.1 806.9 967.6 807.8 968.1 808.4 968.6 808.8 969.1 809.0 969.6 809.0 970.1 808.8 970.6 808.2 971.1 807.3 971.6 806.1 972.1 804.8 972.6 803.7 973.1 803.0 973.6 802.6 974.1 802.5 974.6 802.5 975.1 802.8 975.6 803.2 976.1 803.9 976.6 804.9 977.1 806.3 977.6 807.9 978.1 809.7 978.6 811.1 979.1 812.2 979.6 813.0 980.1 813.5 980.6 813.7 981.1 813.8 981.6 813.7 982.1 813.4 982.6 812.7 983.1 811.6 983.6 810.3 984.1 808.9 984.6 807.7 985.1 806.9 985.6 806.5 986.1 806.3 986.6 806.4 987.1 806.6 987.6 807.0 988.1 807.7 988.6 808.7 989.1 810.1 989.6 811.7 990.1 813.4 990.6 814.8 991.1 815.8 991.6 816.4 992.1 816.8 992.6 817.0 993.1 817.0 993.6 816.8 994.1 816.3 994.6 815.4 995.1 814.1 995.6 812.6 996.1 811.1 996.6 809.9 997.1 809.1 997.6 808.6 998.1 808.3 998.6 808.3 999.1 808.4 999.6 808.8 1000.1 809.4 1000.6 810.4 1001.1 811.8 1001.6 813.4 1002.1 814.9 1002.6 816.0 1003.1 816.8 1003.6 817.2 1004.1 817.4 1004.6 817.4 1005.1 817.3 1005.6 816.9 1006.1 816.2 1006.6 815.2 1007.1 813.8 1007.6 812.2 1008.1 810.9 1008.6 809.8 1009.1 809.2 1009.6 808.8 1010.1 808.6 1010.6 808.6 1011.1 808.8 1011.6 809.2 1012.1 809.9 1012.6 810.9 1013.1 812.3 1013.6 813.7 1014.1 814.9 1014.6 815.7 1015.1 816.2 1015.6 816.4 1016.1 816.4 1016.6 816.3 1017.1 816.0 1017.6 815.4 1018.1 814.5 1018.6 813.3 1019.1 811.9 1019.6 810.4 1020.1 809.2 1020.6 808.4 1021.1 807.9 1021.6 807.6 1022.1 807.5 1022.6 807.6 1023.1 807.8 1023.6 808.3 1024.1 809.1 1024.6 810.3 1025.1 811.6 1025.6 812.8 1026.1 813.7 1026.6 814.2 1027.1 814.5 1027.6 814.5 1028.1 814.4 1028.6 814.2 1029.1 813.7 1029.6 813.0 1030.1 811.9 1030.6 810.5 1031.1 809.0 1031.6 807.6 1032.1 806.5 1032.6 805.7 1033.1 805.0 1033.6 804.6 1034.1 804.3 1034.6 804.1 1035.1 804.1 1035.6 804.4 1036.1 805.1 1036.6 805.9 1037.1 806.8 1037.6 807.4 1038.1 807.8 1038.6 807.9 1039.1 807.8 1039.6 807.6 1040.1 807.2 1040.6 806.7 1041.1 806.0 1041.6 805.0 1042.1 803.7 1042.6 802.2 1043.1 800.9 1043.6 799.8 1044.1 799.0 1044.6 798.4 1045.1 798.0 1045.6 797.8 1046.1 797.7 1046.6 797.7 1047.1 798.0 1047.6 798.6 1048.1 799.4 1048.6 800.2 1049.1 800.9 1049.6 801.2 1050.1 801.3 1050.6 801.1 1051.1 800.7 1051.6 800.2 1052.1 799.6 1052.6 798.7 1053.1 797.6 1053.6 796.2 1054.1 794.6 1054.6 793.1 1055.1 791.7 1055.6 790.7 1056.1 789.9 1056.6 789.3 1057.1 788.9 1057.6 788.6 1058.1 788.4 1058.6 788.5 1059.1 788.8 1059.6 789.4 1060.1 790.1 1060.6 790.7 1061.1 791.0 1061.6 791.1 1062.1 790.9 1062.6 790.6 1063.1 790.2 1063.6 789.6 1064.1 788.9 1064.6 788.0 1065.1 786.8 1065.6 785.5 1066.1 784.1 1066.6 782.9 1067.1 782.1 1067.6 781.5 1068.1 781.1 1068.6 780.8 1069.1 780.7 1069.6 780.7 1070.1 780.9 1070.6 781.4 1071.1 782.1 1071.6 783.0 1072.1 783.7 1072.6 784.2 1073.1 784.4 1073.6 784.4 1074.1 784.2 1074.6 783.8 1075.1 783.3 1075.6 782.6 1076.1 781.7 1076.6 780.5 1077.1 779.0 1077.6 777.5 1078.1 776.2 1078.6 775.2 1079.1 774.3 1079.6 773.7 1080.1 773.2 1080.6 772.9 1081.1 772.7 1081.6 772.6 1082.1 772.9 1082.6 773.3 1083.1 773.9 1083.6 774.5 1084.1 774.8 1084.6 774.9 1085.1 774.7 1085.6 774.4 1086.1 774.0 1086.6 773.4 1087.1 772.7 1087.6 771.7 1088.1 770.5 1088.6 769.1 1089.1 767.6 1089.6 766.3 1090.1 765.2 1090.6 764.3 1091.1 763.6 1091.6 763.1 1092.1 762.7 1092.6 762.4 1093.1 762.3 1093.6 762.4 1094.1 762.8 1094.6 763.3 1095.1 763.8 1095.6 764.1 1096.1 764.2 1096.6 764.0 1097.1 763.7 1097.6 763.3 1098.1 762.8 1098.6 762.1 1099.1 761.3 1099.6 760.2 1100.1 759.0 1100.6 757.6 1101.1 756.4 1101.6 755.4 1102.1 754.7 1102.6 754.1 1103.1 753.7 1103.6 753.4 1104.1 753.2 1104.6 753.2 1105.1 753.4 1105.6 753.8 1106.1 754.4 1106.6 755.0 1107.1 755.4 1107.6 755.6 1108.1 755.5 1108.6 755.2 1109.1 754.8 1109.6 754.2 1110.1 753.5 1110.6 752.6 1111.1 751.5 1111.6 750.1 1112.1 748.6 1112.6 747.1 1113.1 745.9 1113.6 744.9 1114.1 744.1 1114.6 743.5 1115.1 743.0 1115.6 742.6 1116.1 742.4 1116.6 742.4 1117.1 742.7 1117.6 743.1 1118.1 743.7 1118.6 744.1 1119.1 744.2 1119.6 744.2 1120.1 743.9 1120.6 743.6 1121.1 743.1 1121.6 742.4 1122.1 741.6 1122.6 740.6 1123.1 739.3 1123.6 737.9 1124.1 736.5 1124.6 735.2 1125.1 734.2 1125.6 733.5 1126.1 732.8 1126.6 732.3 1127.1 731.9 1127.6 731.6 1128.1 731.6 1128.6 731.7 1129.1 732.1 1129.6 732.6 1130.1 733.0 1130.6 733.2 1131.1 733.1 1131.6 732.9 1132.1 732.5 1132.6 731.9 1133.1 731.3 1133.6 730.5 1134.1 729.5 1134.6 728.2 1135.1 726.8 1135.6 725.3 1136.1 723.9 1136.6 722.8 1137.1 722.0 1137.6 721.3 1138.1 720.7 1138.6 720.3 1139.1 720.0 1139.6 719.9 1140.1 719.9 1140.6 720.3 1141.1 720.8 1141.6 721.2 1142.1 721.5 1142.6 721.5 1143.1 721.3 1143.6 720.9 1144.1 720.4 1144.6 719.8 1145.1 719.0 1145.6 718.0 1146.1 716.8 1146.6 715.4 1147.1 713.8 1147.6 712.4 1148.1 711.2 1148.6 710.2 1149.1 709.5 1149.6 708.9 1150.1 708.5 1150.6 708.2 1151.1 708.0 1151.6 708.1 1152.1 708.5 1152.6 709.1 1153.1 709.7 1153.6 710.2 1154.1 710.5 1154.6 710.5 1155.1 710.3 1155.6 709.9 1156.1 709.4 1156.6 708.8 1157.1 708.0 1157.6 707.0 1158.1 705.7 1158.6 704.3 1159.1 702.8 1159.6 701.5 1160.1 700.5 1160.6 699.7 1161.1 699.0 1161.6 698.5 1162.1 698.1 1162.6 697.8 1163.1 697.7 1163.6 697.8 1164.1 698.2 1164.6 698.7 1165.1 699.2 1165.6 699.4 1166.1 699.3 1166.6 699.1 1167.1 698.7 1167.6 698.1 1168.1 697.5 1168.6 696.6 1169.1 695.6 1169.6 694.3 1170.1 692.8 1170.6 691.3 1171.1 689.8 1171.6 688.5 1172.1 687.5 1172.6 686.7 1173.1 686.1 1173.6 685.6 1174.1 685.2 1174.6 685.0 1175.1 685.0 1175.6 685.2 1176.1 685.7 1176.6 686.2 1177.1 686.5 1177.6 686.6 1178.1 686.5 1178.6 686.2 1179.1 685.7 1179.6 685.2 1180.1 684.5 1180.6 683.6 1181.1 682.5 1181.6 681.2 1182.1 679.7 1182.6 678.2 1183.1 676.9 1183.6 675.9 1184.1 675.1 1184.6 674.5 1185.1 674.0 1185.6 673.6 1186.1 673.3 1186.6 673.3 1187.1 673.5 1187.6 673.9 1188.1 674.5 1188.6 675.0 1189.1 675.3 1189.6 675.3 1190.1 675.1 1190.6 674.7 1191.1 674.3 1191.6 673.7 1192.1 673.0 1192.6 672.1 1193.1 670.9 1193.6 669.5 1194.1 668.0 1194.6 666.8 1195.1 665.7 1195.6 664.9 1196.1 664.3 1196.6 663.9 1197.1 663.6 1197.6 663.4 1198.1 663.4 1198.6 663.6 1199.1 664.1 1199.6 664.8 1200.1 665.5 1200.6 665.9 1201.1 666.2 1201.6 666.2 1202.1 666.0 1202.6 665.7 1203.1 665.3 1203.6 664.7 1204.1 664.0 1204.6 663.0 1205.1 661.8 1205.6 660.4 1206.1 659.1 1206.6 658.1 1207.1 657.2 1207.6 656.6 1208.1 656.2 1208.6 655.8 1209.1 655.6 1209.6 655.5 1210.1 655.6 1210.6 655.9 1211.1 656.4 1211.6 657.0 1212.1 657.5 1212.6 657.8 1213.1 657.8 1213.6 657.7 1214.1 657.4 1214.6 657.0 1215.1 656.4 1215.6 655.8 1216.1 654.9 1216.6 653.8 1217.1 652.6 1217.6 651.3 1218.1 650.1 1218.6 649.2 1219.1 648.5 1219.6 647.9 1220.1 647.5 1220.6 647.2 1221.1 646.9 1221.6 646.8 1222.1 647.0 1222.6 647.3 1223.1 647.7 1223.6 648.2 1224.1 648.4 1224.6 648.4 1225.1 648.3 1225.6 648.0 1226.1 647.6 1226.6 647.1 1227.1 646.5 1227.6 645.8 1228.1 644.9 1228.6 643.7 1229.1 642.5 1229.6 641.4 1230.1 640.4 1230.6 639.7 1231.1 639.0 1231.6 638.6 1232.1 638.2 1232.6 637.9 1233.1 637.7 1233.6 637.6 1234.1 637.8 1234.6 638.1 1235.1 638.4 1235.6 638.6 1236.1 638.6 1236.6 638.3 1237.1 638.0 1237.6 637.5 1238.1 636.9 1238.6 636.3 1239.1 635.6 1239.6 634.8 1240.1 633.9 1240.6 632.9 1241.1 632.0 1241.6 631.2 1242.1 630.6 1242.6 630.0 1243.1 629.6 1243.6 629.2 1244.1 628.9 1244.6 628.6 1245.1 628.3 1245.6 628.1 1246.1 627.9 1246.6 627.8 1247.1 627.6 1247.6 627.4 1248.1 627.1 1248.6 626.8 1249.1 626.5 1249.6 626.1 1250.1 625.6 1250.6 625.2 1251.1 624.7 1251.6 624.1 1252.1 623.5 1252.6 622.8 1253.1 622.2 1253.6 621.6 1254.1 621.1 1254.6 620.7 1255.1 620.3 1255.6 619.9 1256.1 619.5 1256.6 619.2 1257.1 619.0 1257.6 618.7 1258.1 618.6 1258.6 618.4 1259.1 618.2 1259.6 618.0 1260.1 617.7 1260.6 617.3 1261.1 616.9 1261.6 616.5 1262.1 616.1 1262.6 615.6 1263.1 615.0 1263.6 614.4 1264.1 613.8 1264.6 613.1 1265.1 612.5 1265.6 612.0 1266.1 611.4 1266.6 610.9 1267.1 610.4 1267.6 610.0 1268.1 609.5 1268.6 609.1 1269.1 608.8 1269.6 608.4 1270.1 608.1 1270.6 607.8 1271.1 607.4 1271.6 606.9 1272.1 606.5 1272.6 606.0 1273.1 605.4 1273.6 604.8 1274.1 604.2 1274.6 603.6 1275.1 602.9 1275.6 602.1 1276.1 601.3 1276.6 600.4 1277.1 599.6 1277.6 598.9 1278.1 598.2 1278.6 597.6 1279.1 597.0 1279.6 596.5 1280.1 596.1 1280.6 595.8 1281.1 595.6 1281.6 595.4 1282.1 595.4 1282.6 595.3 1283.1 595.1 1283.6 594.9 1284.1 594.6 1284.6 594.3 1285.1 593.9 1285.6 593.5 1286.1 593.0 1286.6 592.3 1287.1 591.6 1287.6 590.7 1288.1 589.8 1288.6 588.9 1289.1 588.1 1289.6 587.4 1290.1 586.7 1290.6 586.2 1291.1 585.6 1291.6 585.2 1292.1 584.8 1292.6 584.6 1293.1 584.5 1293.6 584.5 1294.1 584.5 1294.6 584.5 1295.1 584.3 1295.6 584.0 1296.1 583.6 1296.6 583.1 1297.1 582.6 1297.6 582.0 1298.1 581.2 1298.6 580.4 1299.1 579.3 1299.6 578.2 1300.1 577.2 1300.6 576.2 1301.1 575.5 1301.6 574.9 1302.1 574.4 1302.6 574.0 1303.1 573.7 1303.6 573.5 1304.1 573.5 1304.6 573.7 1305.1 574.1 1305.6 574.5 1306.1 574.9 1306.6 575.1 1307.1 575.1 1307.6 575.0 1308.1 574.7 1308.6 574.3 1309.1 573.7 1309.6 573.0 1310.1 572.2 1310.6 571.0 1311.1 569.7 1311.6 568.2 1312.1 566.9 1312.6 565.8 1313.1 564.9 1313.6 564.1 1314.1 563.5 1314.6 562.9 1315.1 562.5 1315.6 562.2 1316.1 562.2 1316.6 562.4 1317.1 562.8 1317.6 563.3 1318.1 563.5 1318.6 563.6 1319.1 563.3 1319.6 562.9 1320.1 562.4 1320.6 561.7 1321.1 560.9 1321.6 559.8 1322.1 558.6 1322.6 557.0 1323.1 555.3 1323.6 553.6 1324.1 552.1 1324.6 550.9 1325.1 549.9 1325.6 549.1 1326.1 548.5 1326.6 548.0 1327.1 547.6 1327.6 547.5 1328.1 547.6 1328.6 547.9 1329.1 548.5 1329.6 548.9 1330.1 549.2 1330.6 549.2 1331.1 548.9 1331.6 548.5 1332.1 547.9 1332.6 547.3 1333.1 546.4 1333.6 545.4 1334.1 544.1 1334.6 542.5 1335.1 540.8 1335.6 539.3 1336.1 537.9 1336.6 536.9 1337.1 536.0 1337.6 535.3 1338.1 534.8 1338.6 534.4 1339.1 534.1 1339.6 534.1 1340.1 534.3 1340.6 534.8 1341.1 535.4 1341.6 535.9 1342.1 536.1 1342.6 536.0 1343.1 535.7 1343.6 535.3 1344.1 534.7 1344.6 534.0 1345.1 533.1 1345.6 532.0 1346.1 530.6 1346.6 529.0 1347.1 527.3 1347.6 525.8 1348.1 524.5 1348.6 523.5 1349.1 522.7 1349.6 522.1 1350.1 521.6 1350.6 521.2 1351.1 521.0 1351.6 521.1 1352.1 521.4 1352.6 521.9 1353.1 522.5 1353.6 522.9 1354.1 523.0 1354.6 522.9 1355.1 522.5 1355.6 522.1 1356.1 521.5 1356.6 520.7 1357.1 519.8 1357.6 518.6 1358.1 517.1 1358.6 515.4 1359.1 513.7 1359.6 512.3 1360.1 511.0 1360.6 510.1 1361.1 509.3 1361.6 508.7 1362.1 508.2 1362.6 507.9 1363.1 507.7 1363.6 507.8 1364.1 508.2 1364.6 508.8 1365.1 509.4 1365.6 509.8 1366.1 509.8 1366.6 509.7 1367.1 509.4 1367.6 508.9 1368.1 508.3 1368.6 507.5 1369.1 506.6 1369.6 505.4 1370.1 503.9 1370.6 502.2 1371.1 500.6 1371.6 499.2 1372.1 498.0 1372.6 497.1 1373.1 496.4 1373.6 495.9 1374.1 495.4 1374.6 495.2 1375.1 495.1 1375.6 495.3 1376.1 495.8 1376.6 496.4 1377.1 497.0 1377.6 497.4 1378.1 497.5 1378.6 497.4 1379.1 497.1 1379.6 496.6 1380.1 496.0 1380.6 495.3 1381.1 494.3 1381.6 493.1 1382.1 491.6 1382.6 490.0 1383.1 488.4 1383.6 487.0 1384.1 485.9 1384.6 485.1 1385.1 484.4 1385.6 483.9 1386.1 483.5 1386.6 483.3 1387.1 483.3 1387.6 483.5 1388.1 484.1 1388.6 484.8 1389.1 485.4 1389.6 485.8 1390.1 485.9 1390.6 485.8 1391.1 485.5 1391.6 485.0 1392.1 484.5 1392.6 483.7 1393.1 482.8 1393.6 481.5 1394.1 480.0 1394.6 478.3 1395.1 476.7 1395.6 475.4 1396.1 474.3 1396.6 473.4 1397.1 472.8 1397.6 472.2 1398.1 471.9 1398.6 471.6 1399.1 471.6 1399.6 471.9 1400.1 472.5 1400.6 473.2 1401.1 473.8 1401.6 474.3 1402.1 474.4 1402.6 474.3 1403.1 474.1 1403.6 473.7 1404.1 473.1 1404.6 472.4 1405.1 471.5 1405.6 470.4 1406.1 469.0 1406.6 467.4 1407.1 465.9 1407.6 464.6 1408.1 463.6 1408.6 462.9 1409.1 462.4 1409.6 462.0 1410.1 461.8 1410.6 461.7 1411.1 461.8 1411.6 462.2 1412.1 462.9 1412.6 463.8 1413.1 464.6 1413.6 465.2 1414.1 465.5 1414.6 465.6 1415.1 465.5 1415.6 465.2 1416.1 464.9 1416.6 464.4 1417.1 463.6 1417.6 462.7 1418.1 461.4 1418.6 460.0 1419.1 458.6 1419.6 457.4 1420.1 456.5 1420.6 455.9 1421.1 455.4 1421.6 455.1 1422.1 454.9 1422.6 454.9 1423.1 455.1 1423.6 455.5 1424.1 456.2 1424.6 457.1 1425.1 458.0 1425.6 458.7 1426.1 459.1 1426.6 459.3 1427.1 459.2 1427.6 459.0 1428.1 458.7 1428.6 458.3 1429.1 457.6 1429.6 456.7 1430.1 455.5 1430.6 454.2 1431.1 452.8 1431.6 451.6 1432.1 450.6 1432.6 449.9 1433.1 449.5 1433.6 449.1 1434.1 448.9 1434.6 448.9 1435.1 449.0 1435.6 449.3 1436.1 450.0 1436.6 450.8 1437.1 451.7 1437.6 452.4 1438.1 452.9 1438.6 453.1 1439.1 453.1 1439.6 452.9 1440.1 452.7 1440.6 452.3 1441.1 451.7 1441.6 450.9 1442.1 449.8 1442.6 448.5 1443.1 447.2 1443.6 445.9 1444.1 445.0 1444.6 444.3 1445.1 443.8 1445.6 443.5 1446.1 443.4 1446.6 443.3 1447.1 443.5 1447.6 443.8 1448.1 444.5 1448.6 445.4 1449.1 446.4 1449.6 447.2 1450.1 447.9 1450.6 448.3 1451.1 448.5 1451.6 448.5 1452.1 448.4 1452.6 448.1 1453.1 447.7 1453.6 447.1 1454.1 446.3 1454.6 445.2 1455.1 444.0 1455.6 442.8 1456.1 441.8 1456.6 441.0 1457.1 440.5 1457.6 440.2 1458.1 440.0 1458.6 439.9 1459.1 440.0 1459.6 440.2 1460.1 440.7 1460.6 441.4 1461.1 442.4 1461.6 443.4 1462.1 444.3 1462.6 444.9 1463.1 445.3 1463.6 445.5 1464.1 445.6 1464.6 445.5 1465.1 445.3 1465.6 445.0 1466.1 444.5 1466.6 443.7 1467.1 442.7 1467.6 441.6 1468.1 440.5 1468.6 439.7 1469.1 439.1 1469.6 438.8 1470.1 438.6 1470.6 438.6 1471.1 438.7 1471.6 438.9 1472.1 439.4 1472.6 440.1 1473.1 441.0 1473.6 442.2 1474.1 443.3 1474.6 444.2 1475.1 444.8 1475.6 445.3 1476.1 445.5 1476.6 445.6 1477.1 445.6 1477.6 445.4 1478.1 445.1 1478.6 444.5 1479.1 443.6 1479.6 442.6 1480.1 441.5 1480.6 440.7 1481.1 440.1 1481.6 439.7 1482.1 439.6 1482.6 439.6 1483.1 439.7 1483.6 439.9 1484.1 440.3 1484.6 441.0 1485.1 441.9 1485.6 443.1 1486.1 444.3 1486.6 445.3 1487.1 446.1 1487.6 446.6 1488.1 446.9 1488.6 447.1 1489.1 447.1 1489.6 447.1 1490.1 446.8 1490.6 446.4 1491.1 445.7 1491.6 444.8 1492.1 443.9 1492.6 443.1 1493.1 442.5 1493.6 442.2 1494.1 442.2 1494.6 442.3 1495.1 442.5 1495.6 442.9 1496.1 443.4 1496.6 444.2 1497.1 445.3 1497.6 446.6 1498.1 448.0 1498.6 449.2 1499.1 450.3 1499.6 451.0 1500.1 451.6 1500.6 452.0 1501.1 452.3 1501.6 452.5 1502.1 452.5 1502.6 452.3 1503.1 451.8 1503.6 451.1 1504.1 450.3 1504.6 449.6 1505.1 449.2 1505.6 449.0 1506.1 449.0 1506.6 449.2 1507.1 449.5 1507.6 450.0 1508.1 450.6 1508.6 451.4 1509.1 452.4 1509.6 453.7 1510.1 455.2 1510.6 456.5 1511.1 457.7 1511.6 458.5 1512.1 459.2 1512.6 459.6 1513.1 460.0 1513.6 460.2 1514.1 460.3 1514.6 460.2 1515.1 459.9 1515.6 459.2 1516.1 458.5 1516.6 457.9 1517.1 457.5 1517.6 457.3 1518.1 457.4 1518.6 457.7 1519.1 458.1 1519.6 458.6 1520.1 459.3 1520.6 460.2 1521.1 461.3 1521.6 462.8 1522.1 464.3 1522.6 465.8 1523.1 467.0 1523.6 468.0 1524.1 468.7 1524.6 469.3 1525.1 469.8 1525.6 470.1 1526.1 470.3 1526.6 470.3 1527.1 470.0 1527.6 469.5 1528.1 468.8 1528.6 468.3 1529.1 467.9 1529.6 467.9 1530.1 468.0 1530.6 468.4 1531.1 468.8 1531.6 469.4 1532.1 470.2 1532.6 471.2 1533.1 472.4 1533.6 473.9 1534.1 475.6 1534.6 477.1 1535.1 478.5 1535.6 479.5 1536.1 480.4 1536.6 481.1 1537.1 481.6 1537.6 482.1 1538.1 482.4 1538.6 482.4 1539.1 482.3 1539.6 481.8 1540.1 481.3 1540.6 480.8 1541.1 480.6 1541.6 480.7 1542.1 481.0 1542.6 481.4 1543.1 482.0 1543.6 482.7 1544.1 483.5 1544.6 484.6 1545.1 486.0 1545.6 487.5 1546.1 489.3 1546.6 490.9 1547.1 492.2 1547.6 493.3 1548.1 494.2 1548.6 495.0 1549.1 495.6 1549.6 496.1 1550.1 496.4 1550.6 496.5 1551.1 496.4 1551.6 496.0 1552.1 495.5 1552.6 495.1 1553.1 495.0 1553.6 495.1 1554.1 495.5 1554.6 496.0 1555.1 496.7 1555.6 497.5 1556.1 498.4 1556.6 499.6 1557.1 501.0 1557.6 502.7 1558.1 504.5 1558.6 506.1 1559.1 507.5 1559.6 508.7 1560.1 509.6 1560.6 510.4 1561.1 511.1 1561.6 511.6 1562.1 512.0 1562.6 512.1 1563.1 512.0 1563.6 511.6 1564.1 511.2 1564.6 510.8 1565.1 510.8 1565.6 511.0 1566.1 511.4 1566.6 511.9 1567.1 512.6 1567.6 513.4 1568.1 514.4 1568.6 515.6 1569.1 517.1 1569.6 518.8 1570.1 520.6 1570.6 522.2 1571.1 523.5 1571.6 524.6 1572.1 525.5 1572.6 526.3 1573.1 526.9 1573.6 527.4 1574.1 527.7 1574.6 527.8 1575.1 527.6 1575.6 527.2 1576.1 526.7 1576.6 526.5 1577.1 526.4 1577.6 526.7 1578.1 527.1 1578.6 527.7 1579.1 528.4 1579.6 529.2 1580.1 530.3 1580.6 531.5 1581.1 533.1 1581.6 534.8 1582.1 536.5 1582.6 538.1 1583.1 539.3 1583.6 540.4 1584.1 541.2 1584.6 541.9 1585.1 542.5 1585.6 542.9 1586.1 543.1 1586.6 543.1 1587.1 542.8 1587.6 542.4 1588.1 541.9 1588.6 541.7 1589.1 541.7 1589.6 541.9 1590.1 542.3 1590.6 542.8 1591.1 543.5 1591.6 544.3 1592.1 545.3 1592.6 546.5 1593.1 548.0 1593.6 549.7 1594.1 551.3 1594.6 552.7 1595.1 553.8 1595.6 554.7 1596.1 555.5 1596.6 556.1 1597.1 556.6 1597.6 557.0 1598.1 557.1 1598.6 557.0 1599.1 556.7 1599.6 556.3 1600.1 555.9 1600.6 555.8 1601.1 556.0 1601.6 556.4 1602.1 557.0 1602.6 557.8 1603.1 558.7 1603.6 559.7 1604.1 561.0 1604.6 562.6 1605.1 564.4 1605.6 566.4 1606.1 568.2 1606.6 569.8 1607.1 571.2 1607.6 572.3 1608.1 573.3 1608.6 574.1 1609.1 574.8 1609.6 575.3 1610.1 575.6 1610.6 575.7 1611.1 575.4 1611.6 575.1 1612.1 574.9 1612.6 575.0 1613.1 575.3 1613.6 575.8 1614.1 576.5 1614.6 577.3 1615.1 578.2 1615.6 579.3 1616.1 580.7 1616.6 582.3 1617.1 584.2 1617.6 586.1 1618.1 587.8 1618.6 589.2 1619.1 590.4 1619.6 591.4 1620.1 592.3 1620.6 592.9 1621.1 593.5 1621.6 593.8 1622.1 593.9 1622.6 593.8 1623.1 593.4 1623.6 592.9 1624.1 592.7 1624.6 592.8 1625.1 593.1 1625.6 593.6 1626.1 594.3 1626.6 595.1 1627.1 596.1 1627.6 597.2 1628.1 598.6 1628.6 600.3 1629.1 602.2 1629.6 604.1 1630.1 605.7 1630.6 607.0 1631.1 608.1 1631.6 609.0 1632.1 609.7 1632.6 610.3 1633.1 610.7 1633.6 610.9 1634.1 610.8 1634.6 610.5 1635.1 610.0 1635.6 609.6 1636.1 609.4 1636.6 609.5 1637.1 609.9 1637.6 610.4 1638.1 611.1 1638.6 611.9 1639.1 612.9 1639.6 614.1 1640.1 615.7 1640.6 617.5 1641.1 619.4 1641.6 621.2 1642.1 622.8 1642.6 624.0 1643.1 625.0 1643.6 625.9 1644.1 626.6 1644.6 627.1 1645.1 627.5 1645.6 627.6 1646.1 627.4 1646.6 627.0 1647.1 626.5 1647.6 626.1 1648.1 626.0 1648.6 626.2 1649.1 626.7 1649.6 627.2 1650.1 628.0 1650.6 628.9 1651.1 629.9 1651.6 631.3 1652.1 632.9 1652.6 634.8 1653.1 636.7 1653.6 638.3 1654.1 639.7 1654.6 640.8 1655.1 641.6 1655.6 642.4 1656.1 642.9 1656.6 643.3 1657.1 643.5 1657.6 643.3 1658.1 642.9 1658.6 642.3 1659.1 641.6 1659.6 641.2 1660.1 641.2 1660.6 641.4 1661.1 641.7 1661.6 642.3 1662.1 643.0 1662.6 643.8 1663.1 644.9 1663.6 646.3 1664.1 648.0 1664.6 649.9 1665.1 651.6 1665.6 653.2 1666.1 654.4 1666.6 655.3 1667.1 656.0 1667.6 656.6 1668.1 657.1 1668.6 657.3 1669.1 657.3 1669.6 657.0 1670.1 656.4 1670.6 655.7 1671.1 655.1 1671.6 654.8 1672.1 654.8 1672.6 655.0 1673.1 655.4 1673.6 656.0 1674.1 656.7 1674.6 657.6 1675.1 658.8 1675.6 660.3 1676.1 662.0 1676.6 663.9 1677.1 665.5 1677.6 666.9 1678.1 667.9 1678.6 668.7 1679.1 669.3 1679.6 669.7 1680.1 669.9 1680.6 670.0 1681.1 669.7 1681.6 669.1 1682.1 668.3 1682.6 667.4 1683.1 666.7 1683.6 666.3 1684.1 666.2 1684.6 666.4 1685.1 666.7 1685.6 667.2 1686.1 667.8 1686.6 668.7 1687.1 669.9 1687.6 671.4 1688.1 673.1 1688.6 674.8 1689.1 676.2 1689.6 677.3 1690.1 678.1 1690.6 678.7 1691.1 679.1 1691.6 679.4 1692.1 679.5 1692.6 679.3 1693.1 678.8 1693.6 678.0 1694.1 677.0 1694.6 676.1 1695.1 675.5 1695.6 675.2 1696.1 675.1 1696.6 675.3 1697.1 675.7 1697.6 676.2 1698.1 676.9 1698.6 677.8 1699.1 679.1 1699.6 680.7 1700.1 682.4 1700.6 684.0 1701.1 685.3 1701.6 686.3 1702.1 687.0 1702.6 687.5 1703.1 687.8 1703.6 687.9 1704.1 687.9 1704.6 687.5 1705.1 686.9 1705.6 685.9 1706.1 684.8 1706.6 683.9 1707.1 683.4 1707.6 683.1 1708.1 683.1 1708.6 683.3 1709.1 683.7 1709.6 684.2 1710.1 685.0 1710.6 686.1 1711.1 687.5 1711.6 689.1 1712.1 690.8 1712.6 692.3 1713.1 693.4 1713.6 694.3 1714.1 694.8 1714.6 695.2 1715.1 695.4 1715.6 695.5 1716.1 695.3 1716.6 694.7 1717.1 693.8 1717.6 692.7 1718.1 691.6 1718.6 690.7 1719.1 690.2 1719.6 690.0 1720.1 690.0 1720.6 690.1 1721.1 690.5 1721.6 691.0 1722.1 691.8 1722.6 692.9 1723.1 694.3 1723.6 695.9 1724.1 697.5 1724.6 698.8 1725.1 699.7 1725.6 700.3 1726.1 700.7 1726.6 701.0 1727.1 701.0 1727.6 700.9 1728.1 700.5 1728.6 699.7 1729.1 698.6 1729.6 697.3 1730.1 696.2 1730.6 695.3 1731.1 694.8 1731.6 694.6 1732.1 694.6 1732.6 694.8 1733.1 695.1 1733.6 695.6 1734.1 696.4 1734.6 697.6 1735.1 699.1 1735.6 700.7 1736.1 702.1 1736.6 703.2 1737.1 704.0 1737.6 704.5 1738.1 704.8 1738.6 704.9 1739.1 704.8 1739.6 704.5 1740.1 703.9 1740.6 702.9 1741.1 701.7 1741.6 700.3 1742.1 699.2 1742.6 698.4 1743.1 698.0 1743.6 697.7 1744.1 697.7 1744.6 697.9 1745.1 698.2 1745.6 698.8 1746.1 699.7 1746.6 700.9 1747.1 702.4 1747.6 704.0 1748.1 705.3 1748.6 706.2 1749.1 706.8 1749.6 707.2 1750.1 707.4 1750.6 707.4 1751.1 707.2 1751.6 706.7 1752.1 706.0 1752.6 704.8 1753.1 703.5 1753.6 702.1 1754.1 701.0 1754.6 700.2 1755.1 699.8 1755.6 699.6 1756.1 699.6 1756.6 699.8 1757.1 700.1 1757.6 700.7 1758.1 701.7 1758.6 703.0 1759.1 704.5 1759.6 706.0 1760.1 707.2 1760.6 708.0 1761.1 708.5 1761.6 708.7 1762.1 708.8 1762.6 708.7 1763.1 708.4 1763.6 707.8 1764.1 706.9 1764.6 705.6 1765.1 704.1 1765.6 702.8 1766.1 701.7 1766.6 701.0 1767.1 700.6 1767.6 700.4 1768.1 700.4 1768.6 700.6 1769.1 701.0 1769.6 701.7 1770.1 702.7 1770.6 704.1 1771.1 705.6 1771.6 707.0 1772.1 708.0 1772.6 708.7 1773.1 709.1 1773.6 709.2 1774.1 709.2 1774.6 709.0 1775.1 708.6 1775.6 707.9 1776.1 706.8 1776.6 705.4 1777.1 703.9 1777.6 702.6 1778.1 701.6 1778.6 700.9 1779.1 700.5 1779.6 700.4 1780.1 700.4 1780.6 700.6 1781.1 701.0 1781.6 701.7 1782.1 702.7 1782.6 704.0 1783.1 705.4 1783.6 706.7 1784.1 707.5 1784.6 708.0 1785.1 708.3 1785.6 708.4 1786.1 708.3 1786.6 708.0 1787.1 707.4 1787.6 706.6 1788.1 705.4 1788.6 704.0 1789.1 702.5 1789.6 701.2 1790.1 700.3 1790.6 699.7 1791.1 699.3 1791.6 699.1 1792.1 699.1 1792.6 699.2 1793.1 699.6 1793.6 700.3 1794.1 701.3 1794.6 702.6 1795.1 703.8 1795.6 704.8 1796.1 705.5 1796.6 705.8 1797.1 705.9 1797.6 705.9 1798.1 705.7 1798.6 705.3 1799.1 704.6 1799.6 703.7 1800.1 702.4 1800.6 700.9 1801.1 699.5 1801.6 698.3 1802.1 697.5 1802.6 697.0 1803.1 696.6 1803.6 696.5 1804.1 696.5 1804.6 696.7 1805.1 697.1 1805.6 697.9 1806.1 698.9 1806.6 700.1 1807.1 701.3 1807.6 702.1 1808.1 702.6 1808.6 702.8 1809.1 702.9 1809.6 702.7 1810.1 702.5 1810.6 702.0 1811.1 701.3 1811.6 700.2 1812.1 698.9 1812.6 697.4 1813.1 696.1 1813.6 695.1 1814.1 694.4 1814.6 694.0 1815.1 693.7 1815.6 693.6 1816.1 693.7 1816.6 694.0 1817.1 694.5 1817.6 695.3 1818.1 696.4 1818.6 697.6 1819.1 698.6 1819.6 699.3 1820.1 699.7 1820.6 699.8 1821.1 699.8 1821.6 699.6 1822.1 699.3 1822.6 698.7 1823.1 697.9 1823.6 696.8 1824.1 695.5 1824.6 694.1 1825.1 692.9 1825.6 692.0 1826.1 691.4 1826.6 691.0 1827.1 690.8 1827.6 690.8 1828.1 690.8 1828.6 691.1 1829.1 691.7 1829.6 692.6 1830.1 693.6 1830.6 694.7 1831.1 695.5 1831.6 696.0 1832.1 696.3 1832.6 696.3 1833.1 696.2 1833.6 695.9 1834.1 695.5 1834.6 694.9 1835.1 694.0 1835.6 692.8 1836.1 691.4 1836.6 690.1 1837.1 689.1 1837.6 688.3 1838.1 687.8 1838.6 687.5 1839.1 687.3 1839.6 687.3 1840.1 687.4 1840.6 687.8 1841.1 688.4 1841.6 689.4 1842.1 690.4 1842.6 691.3 1843.1 692.0 1843.6 692.4 1844.1 692.5 1844.6 692.5 1845.1 692.4 1845.6 692.1 1846.1 691.6 1846.6 690.9 1847.1 689.9 1847.6 688.7 1848.1 687.4 1848.6 686.2 1849.1 685.3 1849.6 684.7 1850.1 684.3 1850.6 684.0 1851.1 683.9 1851.6 683.9 1852.1 684.1 1852.6 684.6 1853.1 685.3 1853.6 686.2 1854.1 687.2 1854.6 688.0 1855.1 688.5 1855.6 688.8 1856.1 688.8 1856.6 688.8 1857.1 688.5 1857.6 688.2 1858.1 687.7 1858.6 686.9 1859.1 685.8 1859.6 684.6 1860.1 683.4 1860.6 682.3 1861.1 681.6 1861.6 681.0 1862.1 680.7 1862.6 680.5 1863.1 680.4 1863.6 680.5 1864.1 680.8 1864.6 681.3 1865.1 682.1 1865.6 683.0 1866.1 683.9 1866.6 684.6 1867.1 685.0 1867.6 685.2 1868.1 685.2 1868.6 685.1 1869.1 684.8 1869.6 684.4 1870.1 683.8 1870.6 683.0 1871.1 681.9 1871.6 680.6 1872.1 679.5 1872.6 678.6 1873.1 677.9 1873.6 677.5 1874.1 677.2 1874.6 677.1 1875.1 677.1 1875.6 677.2 1876.1 677.5 1876.6 678.1 1877.1 679.0 1877.6 679.9 1878.1 680.7 1878.6 681.2 1879.1 681.5 1879.6 681.6 1880.1 681.5 1880.6 681.3 1881.1 681.0 1881.6 680.5 1882.1 679.8 1882.6 678.8 1883.1 677.6 1883.6 676.4 1884.1 675.3 1884.6 674.5 1885.1 673.9 1885.6 673.5 1886.1 673.3 1886.6 673.1 1887.1 673.1 1887.6 673.3 1888.1 673.7 1888.6 674.4 1889.1 675.2 1889.6 676.1 1890.1 676.8 1890.6 677.2 1891.1 677.4 1891.6 677.4 1892.1 677.3 1892.6 677.1 1893.1 676.7 1893.6 676.2 1894.1 675.4 1894.6 674.4 1895.1 673.2 1895.6 672.1 1896.1 671.2 1896.6 670.5 1897.1 670.1 1897.6 669.8 1898.1 669.6 1898.6 669.6 1899.1 669.7 1899.6 670.0 1900.1 670.5 1900.6 671.3 1901.1 672.1 1901.6 673.0 1902.1 673.6 1902.6 673.9 1903.1 674.0 1903.6 674.0 1904.1 673.9 1904.6 673.6 1905.1 673.2 1905.6 672.6 1906.1 671.8 1906.6 670.7 1907.1 669.6 1907.6 668.5 1908.1 667.7 1908.6 667.2 1909.1 666.8 1909.6 666.5 1910.1 666.4 1910.6 666.4 1911.1 666.5 1911.6 666.8 1912.1 667.4 1912.6 668.2 1913.1 669.1 1913.6 669.8 1914.1 670.3 1914.6 670.5 1915.1 670.5 1915.6 670.5 1916.1 670.3 1916.6 669.9 1917.1 669.4 1917.6 668.7 1918.1 667.6 1918.6 666.4 1919.1 665.2 1919.6 664.1 1920.1 663.3 1920.6 662.8 1921.1 662.4 1921.6 662.1 1922.1 662.0 1922.6 662.0 1923.1 662.2 1923.6 662.6 1924.1 663.3 1924.6 664.2 1925.1 665.1 1925.6 665.8 1926.1 666.2 1926.6 666.4 1927.1 666.4 1927.6 666.3 1928.1 666.0 1928.6 665.6 1929.1 665.0 1929.6 664.1 1930.1 663.0 1930.6 661.7 1931.1 660.4 1931.6 659.4 1932.1 658.7 1932.6 658.2 1933.1 657.9 1933.6 657.7 1934.1 657.6 1934.6 657.8 1935.1 658.1 1935.6 658.8 1936.1 659.7 1936.6 660.7 1937.1 661.7 1937.6 662.4 1938.1 662.8 1938.6 663.0 1939.1 663.1 1939.6 663.0 1940.1 662.7 1940.6 662.3 1941.1 661.6 1941.6 660.7 1942.1 659.5 1942.6 658.1 1943.1 656.9 1943.6 656.0 1944.1 655.4 1944.6 655.0 1945.1 654.8 1945.6 654.7 1946.1 654.8 1946.6 655.1 1947.1 655.7 1947.6 656.6 1948.1 657.7 1948.6 659.0 1949.1 660.1 1949.6 660.8 1950.1 661.3 1950.6 661.5 1951.1 661.6 1951.6 661.5 1952.1 661.2 1952.6 660.7 1953.1 659.9 1953.6 658.7 1954.1 657.3 1954.6 655.8 1955.1 654.6 1955.6 653.7 1956.1 653.1 1956.6 652.8 1957.1 652.6 1957.6 652.6 1958.1 652.8 1958.6 653.3 1959.1 654.1 1959.6 655.3 1960.1 656.7 1960.6 658.1 1961.1 659.2 1961.6 660.0 1962.1 660.4 1962.6 660.6 1963.1 660.6 1963.6 660.5 1964.1 660.1 1964.6 659.4 1965.1 658.4 1965.6 657.0 1966.1 655.4 1966.6 653.8 1967.1 652.5 1967.6 651.6 1968.1 651.1 1968.6 650.7 1969.1 650.6 1969.6 650.7 1970.1 651.0 1970.6 651.6 1971.1 652.6 1971.6 654.0 1972.1 655.6 1972.6 657.0 1973.1 658.2 1973.6 658.9 1974.1 659.3 1974.6 659.4 1975.1 659.4 1975.6 659.1 1976.1 658.6 1976.6 657.7 1977.1 656.4 1977.6 654.7 1978.1 652.8 1978.6 651.1 1979.1 649.8 1979.6 648.8 1980.1 648.3 1980.6 647.9 1981.1 647.8 1981.6 647.9 1982.1 648.2 1982.6 648.9 1983.1 650.1 1983.6 651.7 1984.1 653.4 1984.6 654.9 1985.1 656.0 1985.6 656.6 1986.1 656.9 1986.6 657.0 1987.1 656.8 1987.6 656.4 1988.1 655.7 1988.6 654.6 1989.1 653.0 1989.6 651.0 1990.1 649.0 1990.6 647.1 1991.1 645.8 1991.6 644.8 1992.1 644.3 1992.6 643.9 1993.1 643.8 1993.6 644.0 1994.1 644.5 1994.6 645.4 1995.1 646.8 1995.6 648.7 1996.1 650.5 1996.6 652.1 1997.1 653.2 1997.6 653.9 1998.1 654.2 1998.6 654.2 1999.1 654.0 1999.6 653.6 2000.1 652.8 2000.6 651.5 2001.1 649.8 2001.6 647.6 2002.1 645.4 2002.6 643.6 2003.1 642.3 2003.6 641.5 2004.1 641.0 2004.6 640.8 2005.1 640.8 2005.6 641.1 2006.1 641.8 2006.6 643.0 2007.1 644.8 2007.6 646.9 2008.1 649.0 2008.6 650.8 2009.1 652.0 2009.6 652.7 2010.1 653.1 2010.6 653.1 2011.1 653.0 2011.6 652.5 2012.1 651.6 2012.6 650.2 2013.1 648.1 2013.6 645.8 2014.1 643.4 2014.6 641.5 2015.1 640.2 2015.6 639.4 2016.1 638.9 2016.6 638.8 2017.1 638.9 2017.6 639.3 2018.1 640.2 2018.6 641.7 2019.1 643.7 2019.6 646.2 2020.1 648.5 2020.6 650.4 2021.1 651.6 2021.6 652.4 2022.1 652.8 2022.6 652.8 2023.1 652.6 2023.6 652.0 2024.1 651.0 2024.6 649.3 2025.1 647.0 2025.6 644.4 2026.1 641.9 2026.6 639.9 2027.1 638.5 2027.6 637.7 2028.1 637.2 2028.6 637.1 2029.1 637.3 2029.6 637.8 2030.1 638.9 2030.6 640.6 2031.1 642.9 2031.6 645.6 2032.1 648.1 2032.6 650.1 2033.1 651.5 2033.6 652.3 2034.1 652.6 2034.6 652.6 2035.1 652.3 2035.6 651.6 2036.1 650.4 2036.6 648.5 2037.1 646.0 2037.6 643.1 2038.1 640.5 2038.6 638.4 2039.1 636.9 2039.6 636.1 2040.1 635.7 2040.6 635.6 2041.1 635.8 2041.6 636.4 2042.1 637.6 2042.6 639.4 2043.1 641.9 2043.6 644.7 2044.1 647.3 2044.6 649.3 2045.1 650.7 2045.6 651.4 2046.1 651.8 2046.6 651.8 2047.1 651.5 2047.6 650.7 2048.1 649.5 2048.6 647.5 2049.1 644.9 2049.6 642.0 2050.1 639.3 2050.6 637.2 2051.1 635.8 2051.6 635.0 2052.1 634.6 2052.6 634.5 2053.1 634.8 2053.6 635.5 2054.1 636.8 2054.6 638.7 2055.1 641.4 2055.6 644.3 2056.1 647.0 2056.6 649.1 2057.1 650.5 2057.6 651.3 2058.1 651.7 2058.6 651.7 2059.1 651.5 2059.6 650.8 2060.1 649.5 2060.6 647.6 2061.1 645.0 2061.6 642.1 2062.1 639.4 2062.6 637.3 2063.1 636.0 2063.6 635.2 2064.1 634.8 2064.6 634.8 2065.1 635.1 2065.6 635.8 2066.1 637.0 2066.6 639.0 2067.1 641.6 2067.6 644.5 2068.1 647.2 2068.6 649.4 2069.1 650.8 2069.6 651.7 2070.1 652.1 2070.6 652.2 2071.1 651.9 2071.6 651.3 2072.1 650.1 2072.6 648.2 2073.1 645.7 2073.6 642.8 2074.1 640.1 2074.6 638.0 2075.1 636.6 2075.6 635.7 2076.1 635.3 2076.6 635.3 2077.1 635.6 2077.6 636.3 2078.1 637.5 2078.6 639.4 2079.1 641.9 2079.6 644.8 2080.1 647.6 2080.6 649.8 2081.1 651.3 2081.6 652.3 2082.1 652.7 2082.6 652.9 2083.1 652.7 2083.6 652.1 2084.1 651.0 2084.6 649.2 2085.1 646.8 2085.6 644.0 2086.1 641.2 2086.6 639.1 2087.1 637.6 2087.6 636.7 2088.1 636.3 2088.6 636.2 2089.1 636.5 2089.6 637.2 2090.1 638.3 2090.6 640.1 2091.1 642.6 2091.6 645.5 2092.1 648.4 2092.6 650.7 2093.1 652.4 2093.6 653.4 2094.1 653.9 2094.6 654.1 2095.1 654.0 2095.6 653.5 2096.1 652.5 2096.6 650.9 2097.1 648.6 2097.6 645.8 2098.1 643.1 2098.6 640.8 2099.1 639.3 2099.6 638.3 2100.1 637.9 2100.6 637.8 2101.1 638.0 2101.6 638.6 2102.1 639.7 2102.6 641.4 2103.1 643.8 2103.6 646.7 2104.1 649.6 2104.6 652.1 2105.1 653.9 2105.6 655.1 2106.1 655.7 2106.6 656.0 2107.1 656.0 2107.6 655.6 2108.1 654.8 2108.6 653.4 2109.1 651.2 2109.6 648.6 2110.1 645.8 2110.6 643.5 2111.1 641.9 2111.6 640.9 2112.1 640.4 2112.6 640.3 2113.1 640.5 2113.6 641.1 2114.1 642.1 2114.6 643.7 2115.1 646.0 2115.6 648.9 2116.1 651.9 2116.6 654.6 2117.1 656.5 2117.6 657.9 2118.1 658.7 2118.6 659.1 2119.1 659.2 2119.6 659.0 2120.1 658.3 2120.6 657.1 2121.1 655.2 2121.6 652.7 2122.1 649.9 2122.6 647.5 2123.1 645.7 2123.6 644.6 2124.1 644.1 2124.6 643.9 2125.1 644.1 2125.6 644.6 2126.1 645.6 2126.6 647.1 2127.1 649.2 2127.6 652.0 2128.1 655.1 2128.6 658.0 2129.1 660.2 2129.6 661.8 2130.1 662.8 2130.6 663.4 2131.1 663.7 2131.6 663.6 2132.1 663.2 2132.6 662.2 2133.1 660.5 2133.6 658.3 2134.1 655.6 2134.6 653.2 2135.1 651.3 2135.6 650.1 2136.1 649.5 2136.6 649.3 2137.1 649.5 2137.6 650.0 2138.1 650.9 2138.6 652.3 2139.1 654.4 2139.6 657.1 2140.1 660.2 2140.6 663.3 2141.1 665.8 2141.6 667.6 2142.1 668.8 2142.6 669.6 2143.1 670.0 2143.6 670.1 2144.1 669.9 2144.6 669.1 2145.1 667.7 2145.6 665.7 2146.1 663.1 2146.6 660.6 2147.1 658.6 2147.6 657.2 2148.1 656.5 2148.6 656.2 2149.1 656.3 2149.6 656.7 2150.1 657.5 2150.6 658.7 2151.1 660.6 2151.6 663.1 2152.1 666.2 2152.6 669.3 2153.1 672.0 2153.6 674.1 2154.1 675.5 2154.6 676.4 2155.1 677.0 2155.6 677.2 2156.1 677.1 2156.6 676.5 2157.1 675.4 2157.6 673.6 2158.1 671.3 2158.6 668.7 2159.1 666.5 2159.6 665.0 2160.1 664.1 2160.6 663.7 2161.1 663.7 2161.6 664.1 2162.1 664.8 2162.6 665.9 2163.1 667.5 2163.6 669.8 2164.1 672.7 2164.6 675.9 2165.1 678.9 2165.6 681.2 2166.1 682.9 2166.6 684.0 2167.1 684.7 2167.6 685.1 2168.1 685.1 2168.6 684.8 2169.1 684.0 2169.6 682.5 2170.1 680.4 2170.6 677.9 2171.1 675.6 2171.6 673.8 2172.1 672.8 2172.6 672.3 2173.1 672.2 2173.6 672.5 2174.1 673.1 2174.6 674.1 2175.1 675.5 2175.6 677.6 2176.1 680.4 2176.6 683.6 2177.1 686.7 2177.6 689.3 2178.1 691.3 2178.6 692.7 2179.1 693.6 2179.6 694.2 2180.1 694.5 2180.6 694.4 2181.1 693.8 2181.6 692.7 2182.1 690.9 2182.6 688.6 2183.1 686.3 2183.6 684.4 2184.1 683.1 2184.6 682.5 2185.1 682.3 2185.6 682.5 2186.1 683.0 2186.6 683.8 2187.1 685.0 2187.6 686.8 2188.1 689.3 2188.6 692.3 2189.1 695.4 2189.6 698.2 2190.1 700.4 2190.6 701.9 2191.1 703.0 2191.6 703.6 2192.1 704.0 2192.6 704.0 2193.1 703.6 2193.6 702.7 2194.1 701.1 2194.6 699.0 2195.1 696.5 2195.6 694.4" stroke="#ff0000"/></g>
<rect x="1168.7" y="147.3" width="106.4" height="436.7" fill="#fff"/>
<text transform="translate(1243.1,574.5) rotate(-90)" font-weight="bold" font-size="58.5" textLength="415.6" lengthAdjust="spacingAndGlyphs">Damage location</text>
<text x="1008.5" y="697.6" font-weight="bold" font-size="56.3" text-anchor="middle">Negative</text>
<text x="1016.6" y="764" font-weight="bold" font-size="56.3" text-anchor="middle">peak</text>
<text x="1470" y="537.9" font-weight="bold" font-size="56.3" text-anchor="middle">Positive</text>
<text x="1478" y="604.8" font-weight="bold" font-size="56.3" text-anchor="middle">peak</text>
<rect x="249.10" y="134.20" width="1942.75" height="994.20" fill="none" stroke="#000" stroke-width="1.6"/>
<path d="M249.10 1128.40v7 M572.89 1128.40v7 M896.68 1128.40v7 M1220.47 1128.40v7 M1544.27 1128.40v7 M1868.06 1128.40v7 M2191.85 1128.40v7 M249.10 189.43h-7 M249.10 410.37h-7 M249.10 631.30h-7 M249.10 852.23h-7 M249.10 1073.17h-7" stroke="#000" stroke-width="1.6" fill="none"/>
<text x="249.10" y="1203.8" font-size="92" text-anchor="middle">5.0</text>
<text x="572.89" y="1203.8" font-size="92" text-anchor="middle">7.5</text>
<text x="896.68" y="1203.8" font-size="92" text-anchor="middle">10.0</text>
<text x="1220.47" y="1203.8" font-size="92" text-anchor="middle">12.5</text>
<text x="1544.27" y="1203.8" font-size="92" text-anchor="middle">15.0</text>
<text x="1868.06" y="1203.8" font-size="92" text-anchor="middle">17.5</text>
<text x="2191.85" y="1203.8" font-size="92" text-anchor="middle">20.0</text>
<text x="237.2" y="221.23" font-size="92" text-anchor="end">4</text>
<text x="237.2" y="442.17" font-size="92" text-anchor="end">2</text>
<text x="237.2" y="663.10" font-size="92" text-anchor="end">0</text>
<text x="237.2" y="884.03" font-size="92" text-anchor="end">2</text>
<text x="237.2" y="1104.97" font-size="92" text-anchor="end">4</text>
<text transform="translate(138.6,878.12) scale(1.1116,0.8)" font-size="92">−</text>
<text transform="translate(138.6,1099.06) scale(1.1116,0.8)" font-size="92">−</text>
<text x="251.5" y="142.8" font-size="126">×</text>
<text x="322.9" y="129" font-size="92">10</text>
<text transform="translate(414.2,75.3) scale(1.124,1.05)" font-size="64.6">−</text>
<text x="450.7" y="74" font-size="64.6">3</text>
<text x="1220.3" y="1294" font-size="91" text-anchor="middle">Location (m)</text>
<text transform="translate(112.4,1124.3) rotate(-90)" font-size="91.5">Wavelet Coefficient (m/s</text>
<text transform="translate(78.3,205.9) rotate(-90)" font-size="72">2</text>
<text transform="translate(112.4,165.5) rotate(-90)" font-size="91.5">)</text>
<rect x="420.5" y="1364.3" width="1434.8" height="129.3" rx="14.5" fill="#8c8c8c"/>
<rect x="416.7" y="1359.7" width="1434.8" height="129.3" rx="14.5" fill="#fff" stroke="#d2d2d2" stroke-width="2"/>
<line x1="443.9" y1="1416.4" x2="602.7" y2="1416.4" stroke="#008000" stroke-width="7"/>
<line x1="1175" y1="1416.4" x2="1333.5" y2="1416.4" stroke="#ff0000" stroke-width="7"/>
<text x="658" y="1443.6" font-size="76.5">Undamaged</text>
<text x="1389.5" y="1443.6" font-size="76.5">50 % Damage</text>
</svg></body></html>
